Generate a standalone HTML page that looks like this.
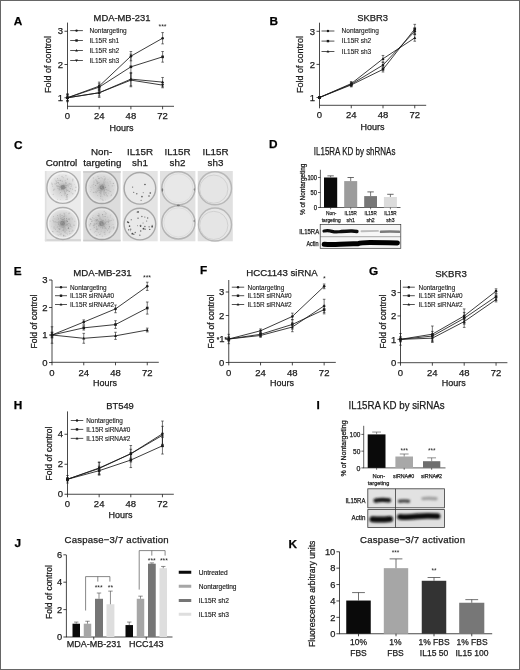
<!DOCTYPE html>
<html lang="en"><head><meta charset="utf-8"><title>Figure</title>
<style>html,body{margin:0;padding:0;background:#fff}svg{display:block}text{font-family:"Liberation Sans",Arial,sans-serif}</style></head>
<body>
<svg width="520" height="670" viewBox="0 0 520 670" font-family="'Liberation Sans', Arial, sans-serif">
<rect x="0" y="0" width="520" height="670" fill="#fff"/>
<text x="13.70" y="24.70" font-size="11.8" text-anchor="start" fill="#000" stroke="#000" stroke-width="0.25" font-weight="bold" >A</text>
<text x="122.00" y="20.50" font-size="9.4" text-anchor="middle" fill="#1a1a1a" stroke="#1a1a1a" stroke-width="0.25" >MDA-MB-231</text>
<line x1="67.50" y1="22.60" x2="67.50" y2="106.30" stroke="#1a1a1a" stroke-width="0.8" />
<line x1="67.10" y1="106.30" x2="174.00" y2="106.30" stroke="#1a1a1a" stroke-width="0.8" />
<line x1="64.50" y1="97.75" x2="67.50" y2="97.75" stroke="#1a1a1a" stroke-width="0.8" />
<text x="63.10" y="100.95" font-size="9.5" text-anchor="end" fill="#1a1a1a" stroke="#1a1a1a" stroke-width="0.25" >1</text>
<line x1="64.50" y1="64.50" x2="67.50" y2="64.50" stroke="#1a1a1a" stroke-width="0.8" />
<text x="63.10" y="67.70" font-size="9.5" text-anchor="end" fill="#1a1a1a" stroke="#1a1a1a" stroke-width="0.25" >2</text>
<line x1="64.50" y1="31.25" x2="67.50" y2="31.25" stroke="#1a1a1a" stroke-width="0.8" />
<text x="63.10" y="34.45" font-size="9.5" text-anchor="end" fill="#1a1a1a" stroke="#1a1a1a" stroke-width="0.25" >3</text>
<line x1="67.50" y1="106.30" x2="67.50" y2="109.30" stroke="#1a1a1a" stroke-width="0.8" />
<text x="67.50" y="119.30" font-size="9.5" text-anchor="middle" fill="#1a1a1a" stroke="#1a1a1a" stroke-width="0.25" >0</text>
<line x1="99.20" y1="106.30" x2="99.20" y2="109.30" stroke="#1a1a1a" stroke-width="0.8" />
<text x="99.20" y="119.30" font-size="9.5" text-anchor="middle" fill="#1a1a1a" stroke="#1a1a1a" stroke-width="0.25" >24</text>
<line x1="130.90" y1="106.30" x2="130.90" y2="109.30" stroke="#1a1a1a" stroke-width="0.8" />
<text x="130.90" y="119.30" font-size="9.5" text-anchor="middle" fill="#1a1a1a" stroke="#1a1a1a" stroke-width="0.25" >48</text>
<line x1="162.60" y1="106.30" x2="162.60" y2="109.30" stroke="#1a1a1a" stroke-width="0.8" />
<text x="162.60" y="119.30" font-size="9.5" text-anchor="middle" fill="#1a1a1a" stroke="#1a1a1a" stroke-width="0.25" >72</text>
<text x="121.50" y="130.80" font-size="9" text-anchor="middle" fill="#1a1a1a" stroke="#1a1a1a" stroke-width="0.25" >Hours</text>
<text x="50.50" y="64.50" font-size="9" text-anchor="middle" fill="#1a1a1a" stroke="#1a1a1a" stroke-width="0.25" transform="rotate(-90 50.50 64.50)" >Fold of control</text>
<path d="M67.50 97.75 L99.20 86.11 L130.90 56.19 L162.60 38.23" fill="none" stroke="#1a1a1a" stroke-width="0.85"/>
<line x1="67.50" y1="93.76" x2="67.50" y2="101.74" stroke="#1a1a1a" stroke-width="0.6" />
<line x1="66.20" y1="93.76" x2="68.80" y2="93.76" stroke="#1a1a1a" stroke-width="0.6" />
<line x1="66.20" y1="101.74" x2="68.80" y2="101.74" stroke="#1a1a1a" stroke-width="0.6" />
<circle cx="67.50" cy="97.75" r="1.3" fill="#1a1a1a"/>
<line x1="99.20" y1="82.12" x2="99.20" y2="90.10" stroke="#1a1a1a" stroke-width="0.6" />
<line x1="97.90" y1="82.12" x2="100.50" y2="82.12" stroke="#1a1a1a" stroke-width="0.6" />
<line x1="97.90" y1="90.10" x2="100.50" y2="90.10" stroke="#1a1a1a" stroke-width="0.6" />
<circle cx="99.20" cy="86.11" r="1.3" fill="#1a1a1a"/>
<line x1="130.90" y1="51.53" x2="130.90" y2="60.84" stroke="#1a1a1a" stroke-width="0.6" />
<line x1="129.60" y1="51.53" x2="132.20" y2="51.53" stroke="#1a1a1a" stroke-width="0.6" />
<line x1="129.60" y1="60.84" x2="132.20" y2="60.84" stroke="#1a1a1a" stroke-width="0.6" />
<circle cx="130.90" cy="56.19" r="1.3" fill="#1a1a1a"/>
<line x1="162.60" y1="32.58" x2="162.60" y2="43.88" stroke="#1a1a1a" stroke-width="0.6" />
<line x1="161.30" y1="32.58" x2="163.90" y2="32.58" stroke="#1a1a1a" stroke-width="0.6" />
<line x1="161.30" y1="43.88" x2="163.90" y2="43.88" stroke="#1a1a1a" stroke-width="0.6" />
<circle cx="162.60" cy="38.23" r="1.3" fill="#1a1a1a"/>
<path d="M67.50 97.75 L99.20 87.11 L130.90 66.83 L162.60 56.85" fill="none" stroke="#1a1a1a" stroke-width="0.85"/>
<line x1="67.50" y1="94.42" x2="67.50" y2="101.08" stroke="#1a1a1a" stroke-width="0.6" />
<line x1="66.20" y1="94.42" x2="68.80" y2="94.42" stroke="#1a1a1a" stroke-width="0.6" />
<line x1="66.20" y1="101.08" x2="68.80" y2="101.08" stroke="#1a1a1a" stroke-width="0.6" />
<rect x="66.20" y="96.45" width="2.6" height="2.6" fill="#1a1a1a"/>
<line x1="99.20" y1="83.78" x2="99.20" y2="90.44" stroke="#1a1a1a" stroke-width="0.6" />
<line x1="97.90" y1="83.78" x2="100.50" y2="83.78" stroke="#1a1a1a" stroke-width="0.6" />
<line x1="97.90" y1="90.44" x2="100.50" y2="90.44" stroke="#1a1a1a" stroke-width="0.6" />
<rect x="97.90" y="85.81" width="2.6" height="2.6" fill="#1a1a1a"/>
<line x1="130.90" y1="54.19" x2="130.90" y2="79.46" stroke="#1a1a1a" stroke-width="0.6" />
<line x1="129.60" y1="54.19" x2="132.20" y2="54.19" stroke="#1a1a1a" stroke-width="0.6" />
<line x1="129.60" y1="79.46" x2="132.20" y2="79.46" stroke="#1a1a1a" stroke-width="0.6" />
<rect x="129.60" y="65.53" width="2.6" height="2.6" fill="#1a1a1a"/>
<line x1="162.60" y1="51.53" x2="162.60" y2="62.17" stroke="#1a1a1a" stroke-width="0.6" />
<line x1="161.30" y1="51.53" x2="163.90" y2="51.53" stroke="#1a1a1a" stroke-width="0.6" />
<line x1="161.30" y1="62.17" x2="163.90" y2="62.17" stroke="#1a1a1a" stroke-width="0.6" />
<rect x="161.30" y="55.55" width="2.6" height="2.6" fill="#1a1a1a"/>
<path d="M67.50 97.75 L99.20 92.76 L130.90 79.13 L162.60 82.12" fill="none" stroke="#1a1a1a" stroke-width="0.85"/>
<line x1="67.50" y1="95.09" x2="67.50" y2="100.41" stroke="#1a1a1a" stroke-width="0.6" />
<line x1="66.20" y1="95.09" x2="68.80" y2="95.09" stroke="#1a1a1a" stroke-width="0.6" />
<line x1="66.20" y1="100.41" x2="68.80" y2="100.41" stroke="#1a1a1a" stroke-width="0.6" />
<path d="M67.50 96.19 L69.00 98.92 L66.00 98.92 Z" fill="#1a1a1a"/>
<line x1="99.20" y1="88.11" x2="99.20" y2="97.42" stroke="#1a1a1a" stroke-width="0.6" />
<line x1="97.90" y1="88.11" x2="100.50" y2="88.11" stroke="#1a1a1a" stroke-width="0.6" />
<line x1="97.90" y1="97.42" x2="100.50" y2="97.42" stroke="#1a1a1a" stroke-width="0.6" />
<path d="M99.20 91.20 L100.70 93.93 L97.70 93.93 Z" fill="#1a1a1a"/>
<line x1="130.90" y1="72.48" x2="130.90" y2="85.78" stroke="#1a1a1a" stroke-width="0.6" />
<line x1="129.60" y1="72.48" x2="132.20" y2="72.48" stroke="#1a1a1a" stroke-width="0.6" />
<line x1="129.60" y1="85.78" x2="132.20" y2="85.78" stroke="#1a1a1a" stroke-width="0.6" />
<path d="M130.90 77.57 L132.40 80.30 L129.41 80.30 Z" fill="#1a1a1a"/>
<line x1="162.60" y1="77.47" x2="162.60" y2="86.78" stroke="#1a1a1a" stroke-width="0.6" />
<line x1="161.30" y1="77.47" x2="163.90" y2="77.47" stroke="#1a1a1a" stroke-width="0.6" />
<line x1="161.30" y1="86.78" x2="163.90" y2="86.78" stroke="#1a1a1a" stroke-width="0.6" />
<path d="M162.60 80.56 L164.09 83.29 L161.10 83.29 Z" fill="#1a1a1a"/>
<path d="M67.50 97.75 L99.20 92.76 L130.90 80.13 L162.60 85.12" fill="none" stroke="#1a1a1a" stroke-width="0.85"/>
<line x1="67.50" y1="95.09" x2="67.50" y2="100.41" stroke="#1a1a1a" stroke-width="0.6" />
<line x1="66.20" y1="95.09" x2="68.80" y2="95.09" stroke="#1a1a1a" stroke-width="0.6" />
<line x1="66.20" y1="100.41" x2="68.80" y2="100.41" stroke="#1a1a1a" stroke-width="0.6" />
<path d="M67.50 99.31 L69.00 96.58 L66.00 96.58 Z" fill="#1a1a1a"/>
<line x1="99.20" y1="89.44" x2="99.20" y2="96.09" stroke="#1a1a1a" stroke-width="0.6" />
<line x1="97.90" y1="89.44" x2="100.50" y2="89.44" stroke="#1a1a1a" stroke-width="0.6" />
<line x1="97.90" y1="96.09" x2="100.50" y2="96.09" stroke="#1a1a1a" stroke-width="0.6" />
<path d="M99.20 94.32 L100.70 91.59 L97.70 91.59 Z" fill="#1a1a1a"/>
<line x1="130.90" y1="73.48" x2="130.90" y2="86.78" stroke="#1a1a1a" stroke-width="0.6" />
<line x1="129.60" y1="73.48" x2="132.20" y2="73.48" stroke="#1a1a1a" stroke-width="0.6" />
<line x1="129.60" y1="86.78" x2="132.20" y2="86.78" stroke="#1a1a1a" stroke-width="0.6" />
<path d="M130.90 81.69 L132.40 78.96 L129.41 78.96 Z" fill="#1a1a1a"/>
<line x1="162.60" y1="82.45" x2="162.60" y2="87.78" stroke="#1a1a1a" stroke-width="0.6" />
<line x1="161.30" y1="82.45" x2="163.90" y2="82.45" stroke="#1a1a1a" stroke-width="0.6" />
<line x1="161.30" y1="87.78" x2="163.90" y2="87.78" stroke="#1a1a1a" stroke-width="0.6" />
<path d="M162.60 86.68 L164.09 83.95 L161.10 83.95 Z" fill="#1a1a1a"/>
<line x1="70.20" y1="30.60" x2="82.90" y2="30.60" stroke="#1a1a1a" stroke-width="0.75" />
<circle cx="76.55" cy="30.60" r="1.2" fill="#1a1a1a"/>
<text x="89.50" y="32.90" font-size="6.5" text-anchor="start" fill="#1a1a1a" stroke="#1a1a1a" stroke-width="0.12" >Nontargeting</text>
<line x1="70.20" y1="40.50" x2="82.90" y2="40.50" stroke="#1a1a1a" stroke-width="0.75" />
<rect x="75.35" y="39.30" width="2.4" height="2.4" fill="#1a1a1a"/>
<text x="89.50" y="42.80" font-size="6.5" text-anchor="start" fill="#1a1a1a" stroke="#1a1a1a" stroke-width="0.12" >IL15R sh1</text>
<line x1="70.20" y1="50.50" x2="82.90" y2="50.50" stroke="#1a1a1a" stroke-width="0.75" />
<path d="M76.55 49.06 L77.93 51.58 L75.17 51.58 Z" fill="#1a1a1a"/>
<text x="89.50" y="52.80" font-size="6.5" text-anchor="start" fill="#1a1a1a" stroke="#1a1a1a" stroke-width="0.12" >IL15R sh2</text>
<line x1="70.20" y1="60.50" x2="82.90" y2="60.50" stroke="#1a1a1a" stroke-width="0.75" />
<path d="M76.55 61.94 L77.93 59.42 L75.17 59.42 Z" fill="#1a1a1a"/>
<text x="89.50" y="62.80" font-size="6.5" text-anchor="start" fill="#1a1a1a" stroke="#1a1a1a" stroke-width="0.12" >IL15R sh3</text>
<text x="162.50" y="28.80" font-size="7" text-anchor="middle" fill="#1a1a1a" >***</text>
<text x="269.40" y="24.70" font-size="11.8" text-anchor="start" fill="#000" stroke="#000" stroke-width="0.25" font-weight="bold" >B</text>
<text x="372.50" y="20.50" font-size="9.4" text-anchor="middle" fill="#1a1a1a" stroke="#1a1a1a" stroke-width="0.25" >SKBR3</text>
<line x1="319.50" y1="22.70" x2="319.50" y2="105.30" stroke="#1a1a1a" stroke-width="0.8" />
<line x1="319.10" y1="105.30" x2="426.20" y2="105.30" stroke="#1a1a1a" stroke-width="0.8" />
<line x1="316.50" y1="97.50" x2="319.50" y2="97.50" stroke="#1a1a1a" stroke-width="0.8" />
<text x="315.10" y="100.70" font-size="9.5" text-anchor="end" fill="#1a1a1a" stroke="#1a1a1a" stroke-width="0.25" >1</text>
<line x1="316.50" y1="64.40" x2="319.50" y2="64.40" stroke="#1a1a1a" stroke-width="0.8" />
<text x="315.10" y="67.60" font-size="9.5" text-anchor="end" fill="#1a1a1a" stroke="#1a1a1a" stroke-width="0.25" >2</text>
<line x1="316.50" y1="31.30" x2="319.50" y2="31.30" stroke="#1a1a1a" stroke-width="0.8" />
<text x="315.10" y="34.50" font-size="9.5" text-anchor="end" fill="#1a1a1a" stroke="#1a1a1a" stroke-width="0.25" >3</text>
<line x1="319.50" y1="105.30" x2="319.50" y2="108.30" stroke="#1a1a1a" stroke-width="0.8" />
<text x="319.50" y="117.90" font-size="9.5" text-anchor="middle" fill="#1a1a1a" stroke="#1a1a1a" stroke-width="0.25" >0</text>
<line x1="351.25" y1="105.30" x2="351.25" y2="108.30" stroke="#1a1a1a" stroke-width="0.8" />
<text x="351.25" y="117.90" font-size="9.5" text-anchor="middle" fill="#1a1a1a" stroke="#1a1a1a" stroke-width="0.25" >24</text>
<line x1="383.00" y1="105.30" x2="383.00" y2="108.30" stroke="#1a1a1a" stroke-width="0.8" />
<text x="383.00" y="117.90" font-size="9.5" text-anchor="middle" fill="#1a1a1a" stroke="#1a1a1a" stroke-width="0.25" >48</text>
<line x1="414.75" y1="105.30" x2="414.75" y2="108.30" stroke="#1a1a1a" stroke-width="0.8" />
<text x="414.75" y="117.90" font-size="9.5" text-anchor="middle" fill="#1a1a1a" stroke="#1a1a1a" stroke-width="0.25" >72</text>
<text x="372.62" y="129.50" font-size="9" text-anchor="middle" fill="#1a1a1a" stroke="#1a1a1a" stroke-width="0.25" >Hours</text>
<text x="303.00" y="64.50" font-size="9" text-anchor="middle" fill="#1a1a1a" stroke="#1a1a1a" stroke-width="0.25" transform="rotate(-90 303.00 64.50)" >Fold of control</text>
<path d="M319.50 97.50 L351.25 84.26 L383.00 65.06 L414.75 31.30" fill="none" stroke="#1a1a1a" stroke-width="0.85"/>
<line x1="319.50" y1="96.51" x2="319.50" y2="98.49" stroke="#1a1a1a" stroke-width="0.6" />
<line x1="318.20" y1="96.51" x2="320.80" y2="96.51" stroke="#1a1a1a" stroke-width="0.6" />
<line x1="318.20" y1="98.49" x2="320.80" y2="98.49" stroke="#1a1a1a" stroke-width="0.6" />
<circle cx="319.50" cy="97.50" r="1.3" fill="#1a1a1a"/>
<line x1="351.25" y1="82.27" x2="351.25" y2="86.25" stroke="#1a1a1a" stroke-width="0.6" />
<line x1="349.95" y1="82.27" x2="352.55" y2="82.27" stroke="#1a1a1a" stroke-width="0.6" />
<line x1="349.95" y1="86.25" x2="352.55" y2="86.25" stroke="#1a1a1a" stroke-width="0.6" />
<circle cx="351.25" cy="84.26" r="1.3" fill="#1a1a1a"/>
<line x1="383.00" y1="62.41" x2="383.00" y2="67.71" stroke="#1a1a1a" stroke-width="0.6" />
<line x1="381.70" y1="62.41" x2="384.30" y2="62.41" stroke="#1a1a1a" stroke-width="0.6" />
<line x1="381.70" y1="67.71" x2="384.30" y2="67.71" stroke="#1a1a1a" stroke-width="0.6" />
<circle cx="383.00" cy="65.06" r="1.3" fill="#1a1a1a"/>
<line x1="414.75" y1="27.99" x2="414.75" y2="34.61" stroke="#1a1a1a" stroke-width="0.6" />
<line x1="413.45" y1="27.99" x2="416.05" y2="27.99" stroke="#1a1a1a" stroke-width="0.6" />
<line x1="413.45" y1="34.61" x2="416.05" y2="34.61" stroke="#1a1a1a" stroke-width="0.6" />
<circle cx="414.75" cy="31.30" r="1.3" fill="#1a1a1a"/>
<path d="M319.50 97.50 L351.25 84.92 L383.00 69.36 L414.75 28.98" fill="none" stroke="#1a1a1a" stroke-width="0.85"/>
<line x1="319.50" y1="96.51" x2="319.50" y2="98.49" stroke="#1a1a1a" stroke-width="0.6" />
<line x1="318.20" y1="96.51" x2="320.80" y2="96.51" stroke="#1a1a1a" stroke-width="0.6" />
<line x1="318.20" y1="98.49" x2="320.80" y2="98.49" stroke="#1a1a1a" stroke-width="0.6" />
<rect x="318.20" y="96.20" width="2.6" height="2.6" fill="#1a1a1a"/>
<line x1="351.25" y1="82.94" x2="351.25" y2="86.91" stroke="#1a1a1a" stroke-width="0.6" />
<line x1="349.95" y1="82.94" x2="352.55" y2="82.94" stroke="#1a1a1a" stroke-width="0.6" />
<line x1="349.95" y1="86.91" x2="352.55" y2="86.91" stroke="#1a1a1a" stroke-width="0.6" />
<rect x="349.95" y="83.62" width="2.6" height="2.6" fill="#1a1a1a"/>
<line x1="383.00" y1="66.72" x2="383.00" y2="72.01" stroke="#1a1a1a" stroke-width="0.6" />
<line x1="381.70" y1="66.72" x2="384.30" y2="66.72" stroke="#1a1a1a" stroke-width="0.6" />
<line x1="381.70" y1="72.01" x2="384.30" y2="72.01" stroke="#1a1a1a" stroke-width="0.6" />
<rect x="381.70" y="68.06" width="2.6" height="2.6" fill="#1a1a1a"/>
<line x1="414.75" y1="24.35" x2="414.75" y2="33.62" stroke="#1a1a1a" stroke-width="0.6" />
<line x1="413.45" y1="24.35" x2="416.05" y2="24.35" stroke="#1a1a1a" stroke-width="0.6" />
<line x1="413.45" y1="33.62" x2="416.05" y2="33.62" stroke="#1a1a1a" stroke-width="0.6" />
<rect x="413.45" y="27.68" width="2.6" height="2.6" fill="#1a1a1a"/>
<path d="M319.50 97.50 L351.25 83.60 L383.00 58.77 L414.75 37.92" fill="none" stroke="#1a1a1a" stroke-width="0.85"/>
<line x1="319.50" y1="96.51" x2="319.50" y2="98.49" stroke="#1a1a1a" stroke-width="0.6" />
<line x1="318.20" y1="96.51" x2="320.80" y2="96.51" stroke="#1a1a1a" stroke-width="0.6" />
<line x1="318.20" y1="98.49" x2="320.80" y2="98.49" stroke="#1a1a1a" stroke-width="0.6" />
<path d="M319.50 95.94 L321.00 98.67 L318.00 98.67 Z" fill="#1a1a1a"/>
<line x1="351.25" y1="81.61" x2="351.25" y2="85.58" stroke="#1a1a1a" stroke-width="0.6" />
<line x1="349.95" y1="81.61" x2="352.55" y2="81.61" stroke="#1a1a1a" stroke-width="0.6" />
<line x1="349.95" y1="85.58" x2="352.55" y2="85.58" stroke="#1a1a1a" stroke-width="0.6" />
<path d="M351.25 82.04 L352.75 84.77 L349.75 84.77 Z" fill="#1a1a1a"/>
<line x1="383.00" y1="55.46" x2="383.00" y2="62.08" stroke="#1a1a1a" stroke-width="0.6" />
<line x1="381.70" y1="55.46" x2="384.30" y2="55.46" stroke="#1a1a1a" stroke-width="0.6" />
<line x1="381.70" y1="62.08" x2="384.30" y2="62.08" stroke="#1a1a1a" stroke-width="0.6" />
<path d="M383.00 57.21 L384.50 59.94 L381.50 59.94 Z" fill="#1a1a1a"/>
<line x1="414.75" y1="34.61" x2="414.75" y2="41.23" stroke="#1a1a1a" stroke-width="0.6" />
<line x1="413.45" y1="34.61" x2="416.05" y2="34.61" stroke="#1a1a1a" stroke-width="0.6" />
<line x1="413.45" y1="41.23" x2="416.05" y2="41.23" stroke="#1a1a1a" stroke-width="0.6" />
<path d="M414.75 36.36 L416.25 39.09 L413.25 39.09 Z" fill="#1a1a1a"/>
<line x1="321.50" y1="31.00" x2="334.40" y2="31.00" stroke="#1a1a1a" stroke-width="0.75" />
<circle cx="327.95" cy="31.00" r="1.2" fill="#1a1a1a"/>
<text x="341.60" y="33.30" font-size="6.5" text-anchor="start" fill="#1a1a1a" stroke="#1a1a1a" stroke-width="0.12" >Nontargeting</text>
<line x1="321.50" y1="41.10" x2="334.40" y2="41.10" stroke="#1a1a1a" stroke-width="0.75" />
<rect x="326.75" y="39.90" width="2.4" height="2.4" fill="#1a1a1a"/>
<text x="341.60" y="43.40" font-size="6.5" text-anchor="start" fill="#1a1a1a" stroke="#1a1a1a" stroke-width="0.12" >IL15R sh2</text>
<line x1="321.50" y1="51.50" x2="334.40" y2="51.50" stroke="#1a1a1a" stroke-width="0.75" />
<path d="M327.95 50.06 L329.33 52.58 L326.57 52.58 Z" fill="#1a1a1a"/>
<text x="341.60" y="53.80" font-size="6.5" text-anchor="start" fill="#1a1a1a" stroke="#1a1a1a" stroke-width="0.12" >IL15R sh3</text>
<text x="13.80" y="274.60" font-size="11.8" text-anchor="start" fill="#000" stroke="#000" stroke-width="0.25" font-weight="bold" >E</text>
<text x="102.50" y="275.75" font-size="9.65" text-anchor="middle" fill="#1a1a1a" stroke="#1a1a1a" stroke-width="0.25" >MDA-MB-231</text>
<line x1="52.00" y1="280.00" x2="52.00" y2="362.30" stroke="#1a1a1a" stroke-width="0.8" />
<line x1="51.60" y1="362.30" x2="158.80" y2="362.30" stroke="#1a1a1a" stroke-width="0.8" />
<line x1="49.00" y1="362.50" x2="52.00" y2="362.50" stroke="#1a1a1a" stroke-width="0.8" />
<text x="47.50" y="365.70" font-size="9.5" text-anchor="end" fill="#1a1a1a" stroke="#1a1a1a" stroke-width="0.25" >0</text>
<line x1="49.00" y1="335.00" x2="52.00" y2="335.00" stroke="#1a1a1a" stroke-width="0.8" />
<text x="47.50" y="338.20" font-size="9.5" text-anchor="end" fill="#1a1a1a" stroke="#1a1a1a" stroke-width="0.25" >1</text>
<line x1="49.00" y1="307.50" x2="52.00" y2="307.50" stroke="#1a1a1a" stroke-width="0.8" />
<text x="47.50" y="310.70" font-size="9.5" text-anchor="end" fill="#1a1a1a" stroke="#1a1a1a" stroke-width="0.25" >2</text>
<line x1="49.00" y1="280.00" x2="52.00" y2="280.00" stroke="#1a1a1a" stroke-width="0.8" />
<text x="47.50" y="283.20" font-size="9.5" text-anchor="end" fill="#1a1a1a" stroke="#1a1a1a" stroke-width="0.25" >3</text>
<line x1="52.00" y1="362.30" x2="52.00" y2="365.30" stroke="#1a1a1a" stroke-width="0.8" />
<text x="52.00" y="375.75" font-size="9.5" text-anchor="middle" fill="#1a1a1a" stroke="#1a1a1a" stroke-width="0.25" >0</text>
<line x1="83.75" y1="362.30" x2="83.75" y2="365.30" stroke="#1a1a1a" stroke-width="0.8" />
<text x="83.75" y="375.75" font-size="9.5" text-anchor="middle" fill="#1a1a1a" stroke="#1a1a1a" stroke-width="0.25" >24</text>
<line x1="115.50" y1="362.30" x2="115.50" y2="365.30" stroke="#1a1a1a" stroke-width="0.8" />
<text x="115.50" y="375.75" font-size="9.5" text-anchor="middle" fill="#1a1a1a" stroke="#1a1a1a" stroke-width="0.25" >48</text>
<line x1="147.25" y1="362.30" x2="147.25" y2="365.30" stroke="#1a1a1a" stroke-width="0.8" />
<text x="147.25" y="375.75" font-size="9.5" text-anchor="middle" fill="#1a1a1a" stroke="#1a1a1a" stroke-width="0.25" >72</text>
<text x="105.12" y="385.75" font-size="9" text-anchor="middle" fill="#1a1a1a" stroke="#1a1a1a" stroke-width="0.25" >Hours</text>
<text x="37.20" y="321.50" font-size="8.5" text-anchor="middle" fill="#1a1a1a" stroke="#1a1a1a" stroke-width="0.25" transform="rotate(-90 37.20 321.50)" >Fold of control</text>
<path d="M52.00 335.00 L83.75 322.07 L115.50 308.88 L147.25 286.32" fill="none" stroke="#1a1a1a" stroke-width="0.85"/>
<line x1="52.00" y1="326.75" x2="52.00" y2="343.25" stroke="#1a1a1a" stroke-width="0.6" />
<line x1="50.70" y1="326.75" x2="53.30" y2="326.75" stroke="#1a1a1a" stroke-width="0.6" />
<line x1="50.70" y1="343.25" x2="53.30" y2="343.25" stroke="#1a1a1a" stroke-width="0.6" />
<circle cx="52.00" cy="335.00" r="1.3" fill="#1a1a1a"/>
<line x1="83.75" y1="319.88" x2="83.75" y2="324.27" stroke="#1a1a1a" stroke-width="0.6" />
<line x1="82.45" y1="319.88" x2="85.05" y2="319.88" stroke="#1a1a1a" stroke-width="0.6" />
<line x1="82.45" y1="324.27" x2="85.05" y2="324.27" stroke="#1a1a1a" stroke-width="0.6" />
<circle cx="83.75" cy="322.07" r="1.3" fill="#1a1a1a"/>
<line x1="115.50" y1="305.02" x2="115.50" y2="312.73" stroke="#1a1a1a" stroke-width="0.6" />
<line x1="114.20" y1="305.02" x2="116.80" y2="305.02" stroke="#1a1a1a" stroke-width="0.6" />
<line x1="114.20" y1="312.73" x2="116.80" y2="312.73" stroke="#1a1a1a" stroke-width="0.6" />
<circle cx="115.50" cy="308.88" r="1.3" fill="#1a1a1a"/>
<line x1="147.25" y1="282.20" x2="147.25" y2="290.45" stroke="#1a1a1a" stroke-width="0.6" />
<line x1="145.95" y1="282.20" x2="148.55" y2="282.20" stroke="#1a1a1a" stroke-width="0.6" />
<line x1="145.95" y1="290.45" x2="148.55" y2="290.45" stroke="#1a1a1a" stroke-width="0.6" />
<circle cx="147.25" cy="286.32" r="1.3" fill="#1a1a1a"/>
<path d="M52.00 335.00 L83.75 327.85 L115.50 324.55 L147.25 308.05" fill="none" stroke="#1a1a1a" stroke-width="0.85"/>
<line x1="52.00" y1="332.25" x2="52.00" y2="337.75" stroke="#1a1a1a" stroke-width="0.6" />
<line x1="50.70" y1="332.25" x2="53.30" y2="332.25" stroke="#1a1a1a" stroke-width="0.6" />
<line x1="50.70" y1="337.75" x2="53.30" y2="337.75" stroke="#1a1a1a" stroke-width="0.6" />
<rect x="50.70" y="333.70" width="2.6" height="2.6" fill="#1a1a1a"/>
<line x1="83.75" y1="325.65" x2="83.75" y2="330.05" stroke="#1a1a1a" stroke-width="0.6" />
<line x1="82.45" y1="325.65" x2="85.05" y2="325.65" stroke="#1a1a1a" stroke-width="0.6" />
<line x1="82.45" y1="330.05" x2="85.05" y2="330.05" stroke="#1a1a1a" stroke-width="0.6" />
<rect x="82.45" y="326.55" width="2.6" height="2.6" fill="#1a1a1a"/>
<line x1="115.50" y1="320.70" x2="115.50" y2="328.40" stroke="#1a1a1a" stroke-width="0.6" />
<line x1="114.20" y1="320.70" x2="116.80" y2="320.70" stroke="#1a1a1a" stroke-width="0.6" />
<line x1="114.20" y1="328.40" x2="116.80" y2="328.40" stroke="#1a1a1a" stroke-width="0.6" />
<rect x="114.20" y="323.25" width="2.6" height="2.6" fill="#1a1a1a"/>
<line x1="147.25" y1="302.00" x2="147.25" y2="314.10" stroke="#1a1a1a" stroke-width="0.6" />
<line x1="145.95" y1="302.00" x2="148.55" y2="302.00" stroke="#1a1a1a" stroke-width="0.6" />
<line x1="145.95" y1="314.10" x2="148.55" y2="314.10" stroke="#1a1a1a" stroke-width="0.6" />
<rect x="145.95" y="306.75" width="2.6" height="2.6" fill="#1a1a1a"/>
<path d="M52.00 335.00 L83.75 338.30 L115.50 335.82 L147.25 330.05" fill="none" stroke="#1a1a1a" stroke-width="0.85"/>
<line x1="52.00" y1="332.25" x2="52.00" y2="337.75" stroke="#1a1a1a" stroke-width="0.6" />
<line x1="50.70" y1="332.25" x2="53.30" y2="332.25" stroke="#1a1a1a" stroke-width="0.6" />
<line x1="50.70" y1="337.75" x2="53.30" y2="337.75" stroke="#1a1a1a" stroke-width="0.6" />
<path d="M52.00 333.44 L53.49 336.17 L50.51 336.17 Z" fill="#1a1a1a"/>
<line x1="83.75" y1="333.35" x2="83.75" y2="343.25" stroke="#1a1a1a" stroke-width="0.6" />
<line x1="82.45" y1="333.35" x2="85.05" y2="333.35" stroke="#1a1a1a" stroke-width="0.6" />
<line x1="82.45" y1="343.25" x2="85.05" y2="343.25" stroke="#1a1a1a" stroke-width="0.6" />
<path d="M83.75 336.74 L85.25 339.47 L82.25 339.47 Z" fill="#1a1a1a"/>
<line x1="115.50" y1="332.25" x2="115.50" y2="339.40" stroke="#1a1a1a" stroke-width="0.6" />
<line x1="114.20" y1="332.25" x2="116.80" y2="332.25" stroke="#1a1a1a" stroke-width="0.6" />
<line x1="114.20" y1="339.40" x2="116.80" y2="339.40" stroke="#1a1a1a" stroke-width="0.6" />
<path d="M115.50 334.26 L117.00 337.00 L114.00 337.00 Z" fill="#1a1a1a"/>
<line x1="147.25" y1="328.12" x2="147.25" y2="331.98" stroke="#1a1a1a" stroke-width="0.6" />
<line x1="145.95" y1="328.12" x2="148.55" y2="328.12" stroke="#1a1a1a" stroke-width="0.6" />
<line x1="145.95" y1="331.98" x2="148.55" y2="331.98" stroke="#1a1a1a" stroke-width="0.6" />
<path d="M147.25 328.49 L148.75 331.22 L145.75 331.22 Z" fill="#1a1a1a"/>
<line x1="55.00" y1="287.20" x2="67.00" y2="287.20" stroke="#1a1a1a" stroke-width="0.75" />
<circle cx="61.00" cy="287.20" r="1.2" fill="#1a1a1a"/>
<text x="70.00" y="289.50" font-size="6.4" text-anchor="start" fill="#1a1a1a" stroke="#1a1a1a" stroke-width="0.12" >Nontargeting</text>
<line x1="55.00" y1="295.70" x2="67.00" y2="295.70" stroke="#1a1a1a" stroke-width="0.75" />
<rect x="59.80" y="294.50" width="2.4" height="2.4" fill="#1a1a1a"/>
<text x="70.00" y="298.00" font-size="6.4" text-anchor="start" fill="#1a1a1a" stroke="#1a1a1a" stroke-width="0.12" >IL15R siRNA#0</text>
<line x1="55.00" y1="304.50" x2="67.00" y2="304.50" stroke="#1a1a1a" stroke-width="0.75" />
<path d="M61.00 303.06 L62.38 305.58 L59.62 305.58 Z" fill="#1a1a1a"/>
<text x="70.00" y="306.80" font-size="6.4" text-anchor="start" fill="#1a1a1a" stroke="#1a1a1a" stroke-width="0.12" >IL15R siRNA#2</text>
<text x="147.00" y="280.00" font-size="7" text-anchor="middle" fill="#1a1a1a" >***</text>
<text x="200.00" y="274.40" font-size="11.8" text-anchor="start" fill="#000" stroke="#000" stroke-width="0.25" font-weight="bold" >F</text>
<text x="282.00" y="276.25" font-size="9.65" text-anchor="middle" fill="#1a1a1a" stroke="#1a1a1a" stroke-width="0.25" >HCC1143 siRNA</text>
<line x1="228.75" y1="280.00" x2="228.75" y2="362.40" stroke="#1a1a1a" stroke-width="0.8" />
<line x1="228.35" y1="362.40" x2="335.80" y2="362.40" stroke="#1a1a1a" stroke-width="0.8" />
<line x1="225.75" y1="362.50" x2="228.75" y2="362.50" stroke="#1a1a1a" stroke-width="0.8" />
<text x="224.25" y="365.70" font-size="9.5" text-anchor="end" fill="#1a1a1a" stroke="#1a1a1a" stroke-width="0.25" >0</text>
<line x1="225.75" y1="339.00" x2="228.75" y2="339.00" stroke="#1a1a1a" stroke-width="0.8" />
<text x="227.15" y="342.20" font-size="9.5" text-anchor="end" fill="#1a1a1a" stroke="#1a1a1a" stroke-width="0.25" ><tspan font-size="6.5" dy="-0.6">*</tspan><tspan dy="0.6">1</tspan><tspan font-size="6.5" dy="-0.6">*</tspan></text>
<line x1="225.75" y1="315.50" x2="228.75" y2="315.50" stroke="#1a1a1a" stroke-width="0.8" />
<text x="224.25" y="318.70" font-size="9.5" text-anchor="end" fill="#1a1a1a" stroke="#1a1a1a" stroke-width="0.25" >2</text>
<line x1="225.75" y1="292.00" x2="228.75" y2="292.00" stroke="#1a1a1a" stroke-width="0.8" />
<text x="224.25" y="295.20" font-size="9.5" text-anchor="end" fill="#1a1a1a" stroke="#1a1a1a" stroke-width="0.25" >3</text>
<line x1="228.75" y1="362.40" x2="228.75" y2="365.40" stroke="#1a1a1a" stroke-width="0.8" />
<text x="228.75" y="375.75" font-size="9.5" text-anchor="middle" fill="#1a1a1a" stroke="#1a1a1a" stroke-width="0.25" >0</text>
<line x1="260.55" y1="362.40" x2="260.55" y2="365.40" stroke="#1a1a1a" stroke-width="0.8" />
<text x="260.55" y="375.75" font-size="9.5" text-anchor="middle" fill="#1a1a1a" stroke="#1a1a1a" stroke-width="0.25" >24</text>
<line x1="292.35" y1="362.40" x2="292.35" y2="365.40" stroke="#1a1a1a" stroke-width="0.8" />
<text x="292.35" y="375.75" font-size="9.5" text-anchor="middle" fill="#1a1a1a" stroke="#1a1a1a" stroke-width="0.25" >48</text>
<line x1="324.15" y1="362.40" x2="324.15" y2="365.40" stroke="#1a1a1a" stroke-width="0.8" />
<text x="324.15" y="375.75" font-size="9.5" text-anchor="middle" fill="#1a1a1a" stroke="#1a1a1a" stroke-width="0.25" >72</text>
<text x="281.95" y="385.75" font-size="9" text-anchor="middle" fill="#1a1a1a" stroke="#1a1a1a" stroke-width="0.25" >Hours</text>
<text x="213.50" y="321.50" font-size="8.5" text-anchor="middle" fill="#1a1a1a" stroke="#1a1a1a" stroke-width="0.25" transform="rotate(-90 213.50 321.50)" >Fold of control</text>
<path d="M228.75 339.00 L260.55 330.77 L292.35 316.44 L324.15 286.36" fill="none" stroke="#1a1a1a" stroke-width="0.85"/>
<line x1="228.75" y1="334.30" x2="228.75" y2="343.70" stroke="#1a1a1a" stroke-width="0.6" />
<line x1="227.45" y1="334.30" x2="230.05" y2="334.30" stroke="#1a1a1a" stroke-width="0.6" />
<line x1="227.45" y1="343.70" x2="230.05" y2="343.70" stroke="#1a1a1a" stroke-width="0.6" />
<circle cx="228.75" cy="339.00" r="1.3" fill="#1a1a1a"/>
<line x1="260.55" y1="328.89" x2="260.55" y2="332.65" stroke="#1a1a1a" stroke-width="0.6" />
<line x1="259.25" y1="328.89" x2="261.85" y2="328.89" stroke="#1a1a1a" stroke-width="0.6" />
<line x1="259.25" y1="332.65" x2="261.85" y2="332.65" stroke="#1a1a1a" stroke-width="0.6" />
<circle cx="260.55" cy="330.77" r="1.3" fill="#1a1a1a"/>
<line x1="292.35" y1="313.15" x2="292.35" y2="319.73" stroke="#1a1a1a" stroke-width="0.6" />
<line x1="291.05" y1="313.15" x2="293.65" y2="313.15" stroke="#1a1a1a" stroke-width="0.6" />
<line x1="291.05" y1="319.73" x2="293.65" y2="319.73" stroke="#1a1a1a" stroke-width="0.6" />
<circle cx="292.35" cy="316.44" r="1.3" fill="#1a1a1a"/>
<line x1="324.15" y1="284.01" x2="324.15" y2="288.71" stroke="#1a1a1a" stroke-width="0.6" />
<line x1="322.85" y1="284.01" x2="325.45" y2="284.01" stroke="#1a1a1a" stroke-width="0.6" />
<line x1="322.85" y1="288.71" x2="325.45" y2="288.71" stroke="#1a1a1a" stroke-width="0.6" />
<circle cx="324.15" cy="286.36" r="1.3" fill="#1a1a1a"/>
<path d="M228.75 339.00 L260.55 334.30 L292.35 324.43 L324.15 309.62" fill="none" stroke="#1a1a1a" stroke-width="0.85"/>
<line x1="228.75" y1="337.12" x2="228.75" y2="340.88" stroke="#1a1a1a" stroke-width="0.6" />
<line x1="227.45" y1="337.12" x2="230.05" y2="337.12" stroke="#1a1a1a" stroke-width="0.6" />
<line x1="227.45" y1="340.88" x2="230.05" y2="340.88" stroke="#1a1a1a" stroke-width="0.6" />
<rect x="227.45" y="337.70" width="2.6" height="2.6" fill="#1a1a1a"/>
<line x1="260.55" y1="332.42" x2="260.55" y2="336.18" stroke="#1a1a1a" stroke-width="0.6" />
<line x1="259.25" y1="332.42" x2="261.85" y2="332.42" stroke="#1a1a1a" stroke-width="0.6" />
<line x1="259.25" y1="336.18" x2="261.85" y2="336.18" stroke="#1a1a1a" stroke-width="0.6" />
<rect x="259.25" y="333.00" width="2.6" height="2.6" fill="#1a1a1a"/>
<line x1="292.35" y1="319.73" x2="292.35" y2="329.13" stroke="#1a1a1a" stroke-width="0.6" />
<line x1="291.05" y1="319.73" x2="293.65" y2="319.73" stroke="#1a1a1a" stroke-width="0.6" />
<line x1="291.05" y1="329.13" x2="293.65" y2="329.13" stroke="#1a1a1a" stroke-width="0.6" />
<rect x="291.05" y="323.13" width="2.6" height="2.6" fill="#1a1a1a"/>
<line x1="324.15" y1="305.39" x2="324.15" y2="313.86" stroke="#1a1a1a" stroke-width="0.6" />
<line x1="322.85" y1="305.39" x2="325.45" y2="305.39" stroke="#1a1a1a" stroke-width="0.6" />
<line x1="322.85" y1="313.86" x2="325.45" y2="313.86" stroke="#1a1a1a" stroke-width="0.6" />
<rect x="322.85" y="308.32" width="2.6" height="2.6" fill="#1a1a1a"/>
<path d="M228.75 339.00 L260.55 335.48 L292.35 327.01 L324.15 305.87" fill="none" stroke="#1a1a1a" stroke-width="0.85"/>
<line x1="228.75" y1="337.12" x2="228.75" y2="340.88" stroke="#1a1a1a" stroke-width="0.6" />
<line x1="227.45" y1="337.12" x2="230.05" y2="337.12" stroke="#1a1a1a" stroke-width="0.6" />
<line x1="227.45" y1="340.88" x2="230.05" y2="340.88" stroke="#1a1a1a" stroke-width="0.6" />
<path d="M228.75 337.44 L230.25 340.17 L227.25 340.17 Z" fill="#1a1a1a"/>
<line x1="260.55" y1="333.60" x2="260.55" y2="337.36" stroke="#1a1a1a" stroke-width="0.6" />
<line x1="259.25" y1="333.60" x2="261.85" y2="333.60" stroke="#1a1a1a" stroke-width="0.6" />
<line x1="259.25" y1="337.36" x2="261.85" y2="337.36" stroke="#1a1a1a" stroke-width="0.6" />
<path d="M260.55 333.92 L262.05 336.65 L259.06 336.65 Z" fill="#1a1a1a"/>
<line x1="292.35" y1="322.31" x2="292.35" y2="331.71" stroke="#1a1a1a" stroke-width="0.6" />
<line x1="291.05" y1="322.31" x2="293.65" y2="322.31" stroke="#1a1a1a" stroke-width="0.6" />
<line x1="291.05" y1="331.71" x2="293.65" y2="331.71" stroke="#1a1a1a" stroke-width="0.6" />
<path d="M292.35 325.45 L293.85 328.19 L290.86 328.19 Z" fill="#1a1a1a"/>
<line x1="324.15" y1="299.28" x2="324.15" y2="312.44" stroke="#1a1a1a" stroke-width="0.6" />
<line x1="322.85" y1="299.28" x2="325.45" y2="299.28" stroke="#1a1a1a" stroke-width="0.6" />
<line x1="322.85" y1="312.44" x2="325.45" y2="312.44" stroke="#1a1a1a" stroke-width="0.6" />
<path d="M324.15 304.31 L325.64 307.04 L322.65 307.04 Z" fill="#1a1a1a"/>
<line x1="231.80" y1="287.20" x2="244.20" y2="287.20" stroke="#1a1a1a" stroke-width="0.75" />
<circle cx="238.00" cy="287.20" r="1.2" fill="#1a1a1a"/>
<text x="247.60" y="289.50" font-size="6.4" text-anchor="start" fill="#1a1a1a" stroke="#1a1a1a" stroke-width="0.12" >Nontargeting</text>
<line x1="231.80" y1="295.70" x2="244.20" y2="295.70" stroke="#1a1a1a" stroke-width="0.75" />
<rect x="236.80" y="294.50" width="2.4" height="2.4" fill="#1a1a1a"/>
<text x="247.60" y="298.00" font-size="6.4" text-anchor="start" fill="#1a1a1a" stroke="#1a1a1a" stroke-width="0.12" >IL15R siRNA#0</text>
<line x1="231.80" y1="304.50" x2="244.20" y2="304.50" stroke="#1a1a1a" stroke-width="0.75" />
<path d="M238.00 303.06 L239.38 305.58 L236.62 305.58 Z" fill="#1a1a1a"/>
<text x="247.60" y="306.80" font-size="6.4" text-anchor="start" fill="#1a1a1a" stroke="#1a1a1a" stroke-width="0.12" >IL15R siRNA#2</text>
<text x="324.30" y="281.00" font-size="7" text-anchor="middle" fill="#1a1a1a" >*</text>
<text x="369.00" y="274.70" font-size="11.8" text-anchor="start" fill="#000" stroke="#000" stroke-width="0.25" font-weight="bold" >G</text>
<text x="451.00" y="276.50" font-size="9.65" text-anchor="middle" fill="#1a1a1a" stroke="#1a1a1a" stroke-width="0.25" >SKBR3</text>
<line x1="400.50" y1="280.00" x2="400.50" y2="362.70" stroke="#1a1a1a" stroke-width="0.8" />
<line x1="400.10" y1="362.70" x2="507.40" y2="362.70" stroke="#1a1a1a" stroke-width="0.8" />
<line x1="397.50" y1="362.75" x2="400.50" y2="362.75" stroke="#1a1a1a" stroke-width="0.8" />
<text x="396.30" y="365.95" font-size="9.5" text-anchor="end" fill="#1a1a1a" stroke="#1a1a1a" stroke-width="0.25" >0</text>
<line x1="397.50" y1="339.35" x2="400.50" y2="339.35" stroke="#1a1a1a" stroke-width="0.8" />
<text x="396.30" y="342.55" font-size="9.5" text-anchor="end" fill="#1a1a1a" stroke="#1a1a1a" stroke-width="0.25" >1</text>
<line x1="397.50" y1="315.95" x2="400.50" y2="315.95" stroke="#1a1a1a" stroke-width="0.8" />
<text x="396.30" y="319.15" font-size="9.5" text-anchor="end" fill="#1a1a1a" stroke="#1a1a1a" stroke-width="0.25" >2</text>
<line x1="397.50" y1="292.55" x2="400.50" y2="292.55" stroke="#1a1a1a" stroke-width="0.8" />
<text x="396.30" y="295.75" font-size="9.5" text-anchor="end" fill="#1a1a1a" stroke="#1a1a1a" stroke-width="0.25" >3</text>
<line x1="400.50" y1="362.70" x2="400.50" y2="365.70" stroke="#1a1a1a" stroke-width="0.8" />
<text x="400.50" y="375.75" font-size="9.5" text-anchor="middle" fill="#1a1a1a" stroke="#1a1a1a" stroke-width="0.25" >0</text>
<line x1="432.35" y1="362.70" x2="432.35" y2="365.70" stroke="#1a1a1a" stroke-width="0.8" />
<text x="432.35" y="375.75" font-size="9.5" text-anchor="middle" fill="#1a1a1a" stroke="#1a1a1a" stroke-width="0.25" >24</text>
<line x1="464.20" y1="362.70" x2="464.20" y2="365.70" stroke="#1a1a1a" stroke-width="0.8" />
<text x="464.20" y="375.75" font-size="9.5" text-anchor="middle" fill="#1a1a1a" stroke="#1a1a1a" stroke-width="0.25" >48</text>
<line x1="496.05" y1="362.70" x2="496.05" y2="365.70" stroke="#1a1a1a" stroke-width="0.8" />
<text x="496.05" y="375.75" font-size="9.5" text-anchor="middle" fill="#1a1a1a" stroke="#1a1a1a" stroke-width="0.25" >72</text>
<text x="453.77" y="385.75" font-size="9" text-anchor="middle" fill="#1a1a1a" stroke="#1a1a1a" stroke-width="0.25" >Hours</text>
<text x="385.70" y="321.50" font-size="8.5" text-anchor="middle" fill="#1a1a1a" stroke="#1a1a1a" stroke-width="0.25" transform="rotate(-90 385.70 321.50)" >Fold of control</text>
<path d="M400.50 339.35 L432.35 334.20 L464.20 315.95 L496.05 291.15" fill="none" stroke="#1a1a1a" stroke-width="0.85"/>
<line x1="400.50" y1="333.50" x2="400.50" y2="345.20" stroke="#1a1a1a" stroke-width="0.6" />
<line x1="399.20" y1="333.50" x2="401.80" y2="333.50" stroke="#1a1a1a" stroke-width="0.6" />
<line x1="399.20" y1="345.20" x2="401.80" y2="345.20" stroke="#1a1a1a" stroke-width="0.6" />
<circle cx="400.50" cy="339.35" r="1.3" fill="#1a1a1a"/>
<line x1="432.35" y1="326.01" x2="432.35" y2="342.39" stroke="#1a1a1a" stroke-width="0.6" />
<line x1="431.05" y1="326.01" x2="433.65" y2="326.01" stroke="#1a1a1a" stroke-width="0.6" />
<line x1="431.05" y1="342.39" x2="433.65" y2="342.39" stroke="#1a1a1a" stroke-width="0.6" />
<circle cx="432.35" cy="334.20" r="1.3" fill="#1a1a1a"/>
<line x1="464.20" y1="308.93" x2="464.20" y2="322.97" stroke="#1a1a1a" stroke-width="0.6" />
<line x1="462.90" y1="308.93" x2="465.50" y2="308.93" stroke="#1a1a1a" stroke-width="0.6" />
<line x1="462.90" y1="322.97" x2="465.50" y2="322.97" stroke="#1a1a1a" stroke-width="0.6" />
<circle cx="464.20" cy="315.95" r="1.3" fill="#1a1a1a"/>
<line x1="496.05" y1="288.81" x2="496.05" y2="293.49" stroke="#1a1a1a" stroke-width="0.6" />
<line x1="494.75" y1="288.81" x2="497.35" y2="288.81" stroke="#1a1a1a" stroke-width="0.6" />
<line x1="494.75" y1="293.49" x2="497.35" y2="293.49" stroke="#1a1a1a" stroke-width="0.6" />
<circle cx="496.05" cy="291.15" r="1.3" fill="#1a1a1a"/>
<path d="M400.50 339.35 L432.35 336.07 L464.20 318.29 L496.05 296.53" fill="none" stroke="#1a1a1a" stroke-width="0.85"/>
<line x1="400.50" y1="337.01" x2="400.50" y2="341.69" stroke="#1a1a1a" stroke-width="0.6" />
<line x1="399.20" y1="337.01" x2="401.80" y2="337.01" stroke="#1a1a1a" stroke-width="0.6" />
<line x1="399.20" y1="341.69" x2="401.80" y2="341.69" stroke="#1a1a1a" stroke-width="0.6" />
<rect x="399.20" y="338.05" width="2.6" height="2.6" fill="#1a1a1a"/>
<line x1="432.35" y1="331.39" x2="432.35" y2="340.75" stroke="#1a1a1a" stroke-width="0.6" />
<line x1="431.05" y1="331.39" x2="433.65" y2="331.39" stroke="#1a1a1a" stroke-width="0.6" />
<line x1="431.05" y1="340.75" x2="433.65" y2="340.75" stroke="#1a1a1a" stroke-width="0.6" />
<rect x="431.05" y="334.77" width="2.6" height="2.6" fill="#1a1a1a"/>
<line x1="464.20" y1="312.44" x2="464.20" y2="324.14" stroke="#1a1a1a" stroke-width="0.6" />
<line x1="462.90" y1="312.44" x2="465.50" y2="312.44" stroke="#1a1a1a" stroke-width="0.6" />
<line x1="462.90" y1="324.14" x2="465.50" y2="324.14" stroke="#1a1a1a" stroke-width="0.6" />
<rect x="462.90" y="316.99" width="2.6" height="2.6" fill="#1a1a1a"/>
<line x1="496.05" y1="294.19" x2="496.05" y2="298.87" stroke="#1a1a1a" stroke-width="0.6" />
<line x1="494.75" y1="294.19" x2="497.35" y2="294.19" stroke="#1a1a1a" stroke-width="0.6" />
<line x1="494.75" y1="298.87" x2="497.35" y2="298.87" stroke="#1a1a1a" stroke-width="0.6" />
<rect x="494.75" y="295.23" width="2.6" height="2.6" fill="#1a1a1a"/>
<path d="M400.50 339.35 L432.35 338.18 L464.20 321.57 L496.05 299.57" fill="none" stroke="#1a1a1a" stroke-width="0.85"/>
<line x1="400.50" y1="337.01" x2="400.50" y2="341.69" stroke="#1a1a1a" stroke-width="0.6" />
<line x1="399.20" y1="337.01" x2="401.80" y2="337.01" stroke="#1a1a1a" stroke-width="0.6" />
<line x1="399.20" y1="341.69" x2="401.80" y2="341.69" stroke="#1a1a1a" stroke-width="0.6" />
<path d="M400.50 337.79 L402.00 340.52 L399.00 340.52 Z" fill="#1a1a1a"/>
<line x1="432.35" y1="334.67" x2="432.35" y2="341.69" stroke="#1a1a1a" stroke-width="0.6" />
<line x1="431.05" y1="334.67" x2="433.65" y2="334.67" stroke="#1a1a1a" stroke-width="0.6" />
<line x1="431.05" y1="341.69" x2="433.65" y2="341.69" stroke="#1a1a1a" stroke-width="0.6" />
<path d="M432.35 336.62 L433.85 339.35 L430.86 339.35 Z" fill="#1a1a1a"/>
<line x1="464.20" y1="315.72" x2="464.20" y2="327.42" stroke="#1a1a1a" stroke-width="0.6" />
<line x1="462.90" y1="315.72" x2="465.50" y2="315.72" stroke="#1a1a1a" stroke-width="0.6" />
<line x1="462.90" y1="327.42" x2="465.50" y2="327.42" stroke="#1a1a1a" stroke-width="0.6" />
<path d="M464.20 320.01 L465.69 322.74 L462.70 322.74 Z" fill="#1a1a1a"/>
<line x1="496.05" y1="297.23" x2="496.05" y2="301.91" stroke="#1a1a1a" stroke-width="0.6" />
<line x1="494.75" y1="297.23" x2="497.35" y2="297.23" stroke="#1a1a1a" stroke-width="0.6" />
<line x1="494.75" y1="301.91" x2="497.35" y2="301.91" stroke="#1a1a1a" stroke-width="0.6" />
<path d="M496.05 298.01 L497.55 300.74 L494.56 300.74 Z" fill="#1a1a1a"/>
<line x1="402.80" y1="287.20" x2="414.80" y2="287.20" stroke="#1a1a1a" stroke-width="0.75" />
<circle cx="408.80" cy="287.20" r="1.2" fill="#1a1a1a"/>
<text x="418.60" y="289.50" font-size="6.4" text-anchor="start" fill="#1a1a1a" stroke="#1a1a1a" stroke-width="0.12" >Nontargeting</text>
<line x1="402.80" y1="295.70" x2="414.80" y2="295.70" stroke="#1a1a1a" stroke-width="0.75" />
<rect x="407.60" y="294.50" width="2.4" height="2.4" fill="#1a1a1a"/>
<text x="418.60" y="298.00" font-size="6.4" text-anchor="start" fill="#1a1a1a" stroke="#1a1a1a" stroke-width="0.12" >IL15R siRNA#0</text>
<line x1="402.80" y1="304.50" x2="414.80" y2="304.50" stroke="#1a1a1a" stroke-width="0.75" />
<path d="M408.80 303.06 L410.18 305.58 L407.42 305.58 Z" fill="#1a1a1a"/>
<text x="418.60" y="306.80" font-size="6.4" text-anchor="start" fill="#1a1a1a" stroke="#1a1a1a" stroke-width="0.12" >IL15R siRNA#2</text>
<text x="13.70" y="409.10" font-size="11.8" text-anchor="start" fill="#000" stroke="#000" stroke-width="0.25" font-weight="bold" >H</text>
<text x="120.00" y="408.75" font-size="9.4" text-anchor="middle" fill="#1a1a1a" stroke="#1a1a1a" stroke-width="0.25" >BT549</text>
<line x1="67.50" y1="411.40" x2="67.50" y2="494.25" stroke="#1a1a1a" stroke-width="0.8" />
<line x1="67.10" y1="494.25" x2="173.80" y2="494.25" stroke="#1a1a1a" stroke-width="0.8" />
<line x1="64.50" y1="494.25" x2="67.50" y2="494.25" stroke="#1a1a1a" stroke-width="0.8" />
<text x="63.00" y="497.45" font-size="9.5" text-anchor="end" fill="#1a1a1a" stroke="#1a1a1a" stroke-width="0.25" >0</text>
<line x1="64.50" y1="464.25" x2="67.50" y2="464.25" stroke="#1a1a1a" stroke-width="0.8" />
<text x="63.00" y="467.45" font-size="9.5" text-anchor="end" fill="#1a1a1a" stroke="#1a1a1a" stroke-width="0.25" >2</text>
<line x1="64.50" y1="434.25" x2="67.50" y2="434.25" stroke="#1a1a1a" stroke-width="0.8" />
<text x="63.00" y="437.45" font-size="9.5" text-anchor="end" fill="#1a1a1a" stroke="#1a1a1a" stroke-width="0.25" >4</text>
<line x1="67.50" y1="494.25" x2="67.50" y2="497.25" stroke="#1a1a1a" stroke-width="0.8" />
<text x="67.50" y="507.20" font-size="9.5" text-anchor="middle" fill="#1a1a1a" stroke="#1a1a1a" stroke-width="0.25" >0</text>
<line x1="99.15" y1="494.25" x2="99.15" y2="497.25" stroke="#1a1a1a" stroke-width="0.8" />
<text x="99.15" y="507.20" font-size="9.5" text-anchor="middle" fill="#1a1a1a" stroke="#1a1a1a" stroke-width="0.25" >24</text>
<line x1="130.80" y1="494.25" x2="130.80" y2="497.25" stroke="#1a1a1a" stroke-width="0.8" />
<text x="130.80" y="507.20" font-size="9.5" text-anchor="middle" fill="#1a1a1a" stroke="#1a1a1a" stroke-width="0.25" >48</text>
<line x1="162.45" y1="494.25" x2="162.45" y2="497.25" stroke="#1a1a1a" stroke-width="0.8" />
<text x="162.45" y="507.20" font-size="9.5" text-anchor="middle" fill="#1a1a1a" stroke="#1a1a1a" stroke-width="0.25" >72</text>
<text x="120.47" y="518.00" font-size="9" text-anchor="middle" fill="#1a1a1a" stroke="#1a1a1a" stroke-width="0.25" >Hours</text>
<text x="52.00" y="453.50" font-size="8.5" text-anchor="middle" fill="#1a1a1a" stroke="#1a1a1a" stroke-width="0.25" transform="rotate(-90 52.00 453.50)" >Fold of control</text>
<path d="M67.50 479.25 L99.15 468.00 L130.80 453.75 L162.45 433.80" fill="none" stroke="#1a1a1a" stroke-width="0.85"/>
<line x1="67.50" y1="475.50" x2="67.50" y2="483.00" stroke="#1a1a1a" stroke-width="0.6" />
<line x1="66.20" y1="475.50" x2="68.80" y2="475.50" stroke="#1a1a1a" stroke-width="0.6" />
<line x1="66.20" y1="483.00" x2="68.80" y2="483.00" stroke="#1a1a1a" stroke-width="0.6" />
<circle cx="67.50" cy="479.25" r="1.3" fill="#1a1a1a"/>
<line x1="99.15" y1="462.00" x2="99.15" y2="474.00" stroke="#1a1a1a" stroke-width="0.6" />
<line x1="97.85" y1="462.00" x2="100.45" y2="462.00" stroke="#1a1a1a" stroke-width="0.6" />
<line x1="97.85" y1="474.00" x2="100.45" y2="474.00" stroke="#1a1a1a" stroke-width="0.6" />
<circle cx="99.15" cy="468.00" r="1.3" fill="#1a1a1a"/>
<line x1="130.80" y1="445.50" x2="130.80" y2="462.00" stroke="#1a1a1a" stroke-width="0.6" />
<line x1="129.50" y1="445.50" x2="132.10" y2="445.50" stroke="#1a1a1a" stroke-width="0.6" />
<line x1="129.50" y1="462.00" x2="132.10" y2="462.00" stroke="#1a1a1a" stroke-width="0.6" />
<circle cx="130.80" cy="453.75" r="1.3" fill="#1a1a1a"/>
<line x1="162.45" y1="421.05" x2="162.45" y2="446.55" stroke="#1a1a1a" stroke-width="0.6" />
<line x1="161.15" y1="421.05" x2="163.75" y2="421.05" stroke="#1a1a1a" stroke-width="0.6" />
<line x1="161.15" y1="446.55" x2="163.75" y2="446.55" stroke="#1a1a1a" stroke-width="0.6" />
<circle cx="162.45" cy="433.80" r="1.3" fill="#1a1a1a"/>
<path d="M67.50 479.25 L99.15 470.70 L130.80 460.05 L162.45 445.80" fill="none" stroke="#1a1a1a" stroke-width="0.85"/>
<line x1="67.50" y1="477.75" x2="67.50" y2="480.75" stroke="#1a1a1a" stroke-width="0.6" />
<line x1="66.20" y1="477.75" x2="68.80" y2="477.75" stroke="#1a1a1a" stroke-width="0.6" />
<line x1="66.20" y1="480.75" x2="68.80" y2="480.75" stroke="#1a1a1a" stroke-width="0.6" />
<rect x="66.20" y="477.95" width="2.6" height="2.6" fill="#1a1a1a"/>
<line x1="99.15" y1="466.20" x2="99.15" y2="475.20" stroke="#1a1a1a" stroke-width="0.6" />
<line x1="97.85" y1="466.20" x2="100.45" y2="466.20" stroke="#1a1a1a" stroke-width="0.6" />
<line x1="97.85" y1="475.20" x2="100.45" y2="475.20" stroke="#1a1a1a" stroke-width="0.6" />
<rect x="97.85" y="469.40" width="2.6" height="2.6" fill="#1a1a1a"/>
<line x1="130.80" y1="452.55" x2="130.80" y2="467.55" stroke="#1a1a1a" stroke-width="0.6" />
<line x1="129.50" y1="452.55" x2="132.10" y2="452.55" stroke="#1a1a1a" stroke-width="0.6" />
<line x1="129.50" y1="467.55" x2="132.10" y2="467.55" stroke="#1a1a1a" stroke-width="0.6" />
<rect x="129.50" y="458.75" width="2.6" height="2.6" fill="#1a1a1a"/>
<line x1="162.45" y1="437.55" x2="162.45" y2="454.05" stroke="#1a1a1a" stroke-width="0.6" />
<line x1="161.15" y1="437.55" x2="163.75" y2="437.55" stroke="#1a1a1a" stroke-width="0.6" />
<line x1="161.15" y1="454.05" x2="163.75" y2="454.05" stroke="#1a1a1a" stroke-width="0.6" />
<rect x="161.15" y="444.50" width="2.6" height="2.6" fill="#1a1a1a"/>
<path d="M67.50 479.25 L99.15 468.45 L130.80 453.75 L162.45 435.30" fill="none" stroke="#1a1a1a" stroke-width="0.85"/>
<line x1="67.50" y1="477.75" x2="67.50" y2="480.75" stroke="#1a1a1a" stroke-width="0.6" />
<line x1="66.20" y1="477.75" x2="68.80" y2="477.75" stroke="#1a1a1a" stroke-width="0.6" />
<line x1="66.20" y1="480.75" x2="68.80" y2="480.75" stroke="#1a1a1a" stroke-width="0.6" />
<path d="M67.50 477.69 L69.00 480.42 L66.00 480.42 Z" fill="#1a1a1a"/>
<line x1="99.15" y1="462.45" x2="99.15" y2="474.45" stroke="#1a1a1a" stroke-width="0.6" />
<line x1="97.85" y1="462.45" x2="100.45" y2="462.45" stroke="#1a1a1a" stroke-width="0.6" />
<line x1="97.85" y1="474.45" x2="100.45" y2="474.45" stroke="#1a1a1a" stroke-width="0.6" />
<path d="M99.15 466.89 L100.65 469.62 L97.66 469.62 Z" fill="#1a1a1a"/>
<line x1="130.80" y1="449.25" x2="130.80" y2="458.25" stroke="#1a1a1a" stroke-width="0.6" />
<line x1="129.50" y1="449.25" x2="132.10" y2="449.25" stroke="#1a1a1a" stroke-width="0.6" />
<line x1="129.50" y1="458.25" x2="132.10" y2="458.25" stroke="#1a1a1a" stroke-width="0.6" />
<path d="M130.80 452.19 L132.30 454.92 L129.31 454.92 Z" fill="#1a1a1a"/>
<line x1="162.45" y1="426.30" x2="162.45" y2="444.30" stroke="#1a1a1a" stroke-width="0.6" />
<line x1="161.15" y1="426.30" x2="163.75" y2="426.30" stroke="#1a1a1a" stroke-width="0.6" />
<line x1="161.15" y1="444.30" x2="163.75" y2="444.30" stroke="#1a1a1a" stroke-width="0.6" />
<path d="M162.45 433.74 L163.94 436.47 L160.95 436.47 Z" fill="#1a1a1a"/>
<line x1="70.75" y1="420.50" x2="83.25" y2="420.50" stroke="#1a1a1a" stroke-width="0.75" />
<circle cx="77.00" cy="420.50" r="1.2" fill="#1a1a1a"/>
<text x="86.25" y="422.80" font-size="6.4" text-anchor="start" fill="#1a1a1a" stroke="#1a1a1a" stroke-width="0.12" >Nontargeting</text>
<line x1="70.75" y1="429.40" x2="83.25" y2="429.40" stroke="#1a1a1a" stroke-width="0.75" />
<rect x="75.80" y="428.20" width="2.4" height="2.4" fill="#1a1a1a"/>
<text x="86.25" y="431.70" font-size="6.4" text-anchor="start" fill="#1a1a1a" stroke="#1a1a1a" stroke-width="0.12" >IL15R siRNA#0</text>
<line x1="70.75" y1="438.40" x2="83.25" y2="438.40" stroke="#1a1a1a" stroke-width="0.75" />
<path d="M77.00 436.96 L78.38 439.48 L75.62 439.48 Z" fill="#1a1a1a"/>
<text x="86.25" y="440.70" font-size="6.4" text-anchor="start" fill="#1a1a1a" stroke="#1a1a1a" stroke-width="0.12" >IL15R siRNA#2</text>
<text x="13.90" y="148.50" font-size="11.8" text-anchor="start" fill="#000" stroke="#000" stroke-width="0.25" font-weight="bold" >C</text>
<text x="61.50" y="166.00" font-size="9.8" text-anchor="middle" fill="#1a1a1a" stroke="#1a1a1a" stroke-width="0.25" >Control</text>
<text x="101.60" y="154.50" font-size="9.8" text-anchor="middle" fill="#1a1a1a" stroke="#1a1a1a" stroke-width="0.25" >Non-</text>
<text x="102.30" y="166.00" font-size="9.8" text-anchor="middle" fill="#1a1a1a" stroke="#1a1a1a" stroke-width="0.25" >targeting</text>
<text x="140.00" y="154.50" font-size="9.8" text-anchor="middle" fill="#1a1a1a" stroke="#1a1a1a" stroke-width="0.25" >IL15R</text>
<text x="177.50" y="154.50" font-size="9.8" text-anchor="middle" fill="#1a1a1a" stroke="#1a1a1a" stroke-width="0.25" >IL15R</text>
<text x="215.50" y="154.50" font-size="9.8" text-anchor="middle" fill="#1a1a1a" stroke="#1a1a1a" stroke-width="0.25" >IL15R</text>
<text x="140.00" y="165.70" font-size="9.8" text-anchor="middle" fill="#1a1a1a" stroke="#1a1a1a" stroke-width="0.25" >sh1</text>
<text x="177.50" y="165.70" font-size="9.8" text-anchor="middle" fill="#1a1a1a" stroke="#1a1a1a" stroke-width="0.25" >sh2</text>
<text x="215.50" y="165.70" font-size="9.8" text-anchor="middle" fill="#1a1a1a" stroke="#1a1a1a" stroke-width="0.25" >sh3</text>
<defs><radialGradient id="gcol"><stop offset="0" stop-color="#7a7a7a"/><stop offset="0.14" stop-color="#a0a0a0"/><stop offset="0.38" stop-color="#c4c4c4"/><stop offset="0.75" stop-color="#d6d6d6"/><stop offset="1" stop-color="#e4e4e4"/></radialGradient><radialGradient id="gcol2"><stop offset="0" stop-color="#858585"/><stop offset="0.12" stop-color="#adadad"/><stop offset="0.34" stop-color="#cecece"/><stop offset="0.72" stop-color="#dedede"/><stop offset="1" stop-color="#ebebeb"/></radialGradient><radialGradient id="gcol3"><stop offset="0" stop-color="#808080"/><stop offset="0.12" stop-color="#a6a6a6"/><stop offset="0.34" stop-color="#c6c6c6"/><stop offset="0.75" stop-color="#d6d6d6"/><stop offset="1" stop-color="#e0e0e0"/></radialGradient><filter id="b1" x="-20%" y="-20%" width="140%" height="140%"><feGaussianBlur stdDeviation="0.65"/></filter><filter id="b2" x="-30%" y="-60%" width="160%" height="220%"><feGaussianBlur stdDeviation="1.0"/></filter><filter id="b3" x="-20%" y="-40%" width="140%" height="180%"><feGaussianBlur stdDeviation="0.6"/></filter></defs>
<g filter="url(#b1)">
<rect x="44.90" y="171.00" width="36.00" height="70.30" fill="#ebebeb" />
<rect x="44.90" y="239.10" width="36.00" height="2.20" fill="#d6d6d6" />
<rect x="44.90" y="171.00" width="1.60" height="70.30" fill="#e0e0e0" />
<circle cx="62.90" cy="187.4" r="16.0" fill="#f1f1f1" stroke="#acacac" stroke-width="1.4"/>
<circle cx="62.90" cy="187.4" r="14.0" fill="url(#gcol2)"/>
<circle cx="53.61" cy="190.27" r="0.77" fill="#c6c6c6"/>
<circle cx="53.85" cy="189.38" r="0.63" fill="#c6c6c6"/>
<circle cx="66.61" cy="195.93" r="0.65" fill="#c6c6c6"/>
<circle cx="63.96" cy="183.56" r="0.52" fill="#c6c6c6"/>
<circle cx="72.75" cy="193.71" r="0.68" fill="#c6c6c6"/>
<circle cx="75.34" cy="190.75" r="0.79" fill="#c6c6c6"/>
<circle cx="57.11" cy="179.00" r="0.46" fill="#c6c6c6"/>
<circle cx="72.31" cy="188.29" r="0.42" fill="#c6c6c6"/>
<circle cx="65.25" cy="193.35" r="0.41" fill="#c6c6c6"/>
<circle cx="54.49" cy="189.34" r="0.74" fill="#c6c6c6"/>
<circle cx="52.57" cy="186.15" r="0.60" fill="#c6c6c6"/>
<circle cx="58.30" cy="179.91" r="0.51" fill="#c6c6c6"/>
<circle cx="75.87" cy="187.21" r="0.74" fill="#c6c6c6"/>
<circle cx="60.99" cy="180.36" r="0.49" fill="#c6c6c6"/>
<circle cx="62.06" cy="190.74" r="0.71" fill="#c6c6c6"/>
<circle cx="53.21" cy="194.41" r="0.55" fill="#c6c6c6"/>
<circle cx="74.45" cy="184.28" r="0.40" fill="#c6c6c6"/>
<circle cx="66.01" cy="199.41" r="0.59" fill="#c6c6c6"/>
<circle cx="71.03" cy="186.39" r="0.43" fill="#c6c6c6"/>
<circle cx="55.02" cy="179.07" r="0.51" fill="#c6c6c6"/>
<circle cx="69.30" cy="191.30" r="0.79" fill="#c6c6c6"/>
<circle cx="63.13" cy="182.94" r="0.50" fill="#c6c6c6"/>
<circle cx="65.46" cy="189.29" r="0.72" fill="#c6c6c6"/>
<circle cx="67.17" cy="196.14" r="0.58" fill="#c6c6c6"/>
<circle cx="66.95" cy="197.76" r="0.45" fill="#c6c6c6"/>
<circle cx="60.15" cy="183.92" r="0.57" fill="#c6c6c6"/>
<circle cx="64.46" cy="193.97" r="0.79" fill="#c6c6c6"/>
<circle cx="65.26" cy="180.63" r="0.75" fill="#c6c6c6"/>
<circle cx="64.89" cy="195.32" r="0.74" fill="#c6c6c6"/>
<circle cx="60.31" cy="184.20" r="0.80" fill="#c6c6c6"/>
<circle cx="64.41" cy="193.83" r="0.71" fill="#c6c6c6"/>
<circle cx="59.53" cy="193.62" r="0.43" fill="#c6c6c6"/>
<circle cx="71.28" cy="192.72" r="0.50" fill="#c6c6c6"/>
<circle cx="56.53" cy="182.69" r="0.58" fill="#c6c6c6"/>
<circle cx="71.65" cy="185.10" r="0.63" fill="#c6c6c6"/>
<circle cx="66.62" cy="183.27" r="0.46" fill="#c6c6c6"/>
<circle cx="72.76" cy="181.00" r="0.50" fill="#c6c6c6"/>
<circle cx="67.03" cy="197.79" r="0.78" fill="#c6c6c6"/>
<circle cx="67.07" cy="199.36" r="0.75" fill="#c6c6c6"/>
<circle cx="56.18" cy="182.29" r="0.44" fill="#c6c6c6"/>
<circle cx="75.28" cy="190.47" r="0.50" fill="#c6c6c6"/>
<circle cx="61.04" cy="181.08" r="0.73" fill="#c6c6c6"/>
<circle cx="57.11" cy="183.39" r="0.47" fill="#c6c6c6"/>
<circle cx="62.27" cy="184.05" r="0.49" fill="#c6c6c6"/>
<circle cx="51.72" cy="183.03" r="0.65" fill="#c6c6c6"/>
<circle cx="60.55" cy="199.63" r="0.48" fill="#c6c6c6"/>
<circle cx="69.61" cy="188.10" r="0.58" fill="#c6c6c6"/>
<circle cx="67.97" cy="189.42" r="0.55" fill="#c6c6c6"/>
<circle cx="58.66" cy="185.33" r="0.54" fill="#c6c6c6"/>
<circle cx="72.87" cy="179.25" r="0.66" fill="#c6c6c6"/>
<circle cx="59.31" cy="178.13" r="0.46" fill="#c6c6c6"/>
<circle cx="64.60" cy="187.78" r="0.76" fill="#c6c6c6"/>
<circle cx="59.03" cy="175.24" r="0.41" fill="#c6c6c6"/>
<circle cx="56.98" cy="180.58" r="0.69" fill="#c6c6c6"/>
<circle cx="57.45" cy="199.20" r="0.43" fill="#c6c6c6"/>
<circle cx="52.20" cy="184.21" r="0.76" fill="#c6c6c6"/>
<circle cx="62.02" cy="176.53" r="0.72" fill="#c6c6c6"/>
<circle cx="69.54" cy="183.47" r="0.67" fill="#c6c6c6"/>
<circle cx="72.75" cy="180.32" r="0.57" fill="#c6c6c6"/>
<circle cx="65.94" cy="175.71" r="0.63" fill="#c6c6c6"/>
<circle cx="63.05" cy="187.26" r="2.3" fill="#7c7c7c" opacity="0.75"/>
<circle cx="61.05" cy="186.34" r="0.55" fill="#8a8a8a"/>
<circle cx="64.16" cy="186.21" r="0.40" fill="#a4a4a4"/>
<circle cx="62.31" cy="181.10" r="0.43" fill="#8a8a8a"/>
<circle cx="59.39" cy="187.08" r="0.45" fill="#a4a4a4"/>
<circle cx="61.62" cy="187.55" r="0.49" fill="#909090"/>
<circle cx="57.38" cy="178.68" r="0.36" fill="#909090"/>
<circle cx="66.08" cy="187.63" r="0.43" fill="#9a9a9a"/>
<circle cx="63.13" cy="177.80" r="0.46" fill="#a4a4a4"/>
<circle cx="58.56" cy="189.06" r="0.35" fill="#a4a4a4"/>
<circle cx="59.49" cy="188.98" r="0.52" fill="#9a9a9a"/>
<circle cx="59.10" cy="190.77" r="0.33" fill="#9a9a9a"/>
<circle cx="61.17" cy="189.76" r="0.48" fill="#8a8a8a"/>
<circle cx="63.55" cy="187.19" r="0.42" fill="#909090"/>
<circle cx="66.50" cy="185.59" r="0.40" fill="#909090"/>
<circle cx="57.93" cy="186.77" r="0.38" fill="#909090"/>
<circle cx="67.37" cy="179.11" r="0.52" fill="#a4a4a4"/>
<circle cx="65.07" cy="187.98" r="0.46" fill="#a4a4a4"/>
<circle cx="55.13" cy="184.09" r="0.40" fill="#9a9a9a"/>
<circle cx="63.13" cy="187.99" r="0.50" fill="#9a9a9a"/>
<circle cx="68.12" cy="186.87" r="0.41" fill="#8a8a8a"/>
<circle cx="58.21" cy="182.41" r="0.47" fill="#8a8a8a"/>
<circle cx="66.06" cy="196.98" r="0.36" fill="#909090"/>
<circle cx="62.84" cy="187.14" r="0.34" fill="#8a8a8a"/>
<circle cx="61.74" cy="195.63" r="0.43" fill="#a4a4a4"/>
<circle cx="62.93" cy="187.45" r="0.32" fill="#9a9a9a"/>
<circle cx="63.46" cy="187.15" r="0.35" fill="#909090"/>
<circle cx="65.55" cy="185.13" r="0.39" fill="#8a8a8a"/>
<circle cx="54.99" cy="183.75" r="0.42" fill="#a4a4a4"/>
<circle cx="58.11" cy="180.69" r="0.32" fill="#9a9a9a"/>
<circle cx="65.94" cy="184.00" r="0.35" fill="#8a8a8a"/>
<circle cx="71.09" cy="186.39" r="0.37" fill="#a4a4a4"/>
<circle cx="62.67" cy="186.24" r="0.39" fill="#8a8a8a"/>
<circle cx="69.77" cy="191.33" r="0.42" fill="#a4a4a4"/>
<circle cx="65.93" cy="187.95" r="0.41" fill="#8a8a8a"/>
<circle cx="72.67" cy="189.59" r="0.42" fill="#9a9a9a"/>
<circle cx="65.02" cy="187.40" r="0.54" fill="#909090"/>
<circle cx="60.20" cy="187.53" r="0.41" fill="#9a9a9a"/>
<circle cx="62.07" cy="187.08" r="0.43" fill="#9a9a9a"/>
<circle cx="65.90" cy="182.91" r="0.54" fill="#909090"/>
<circle cx="64.36" cy="185.84" r="0.38" fill="#9a9a9a"/>
<circle cx="66.16" cy="191.40" r="0.35" fill="#909090"/>
<circle cx="61.45" cy="187.07" r="0.45" fill="#8a8a8a"/>
<circle cx="70.73" cy="188.78" r="0.44" fill="#909090"/>
<circle cx="64.44" cy="187.30" r="0.42" fill="#8a8a8a"/>
<circle cx="60.13" cy="180.27" r="0.53" fill="#909090"/>
<circle cx="63.95" cy="184.20" r="0.37" fill="#909090"/>
<circle cx="57.97" cy="188.24" r="0.43" fill="#909090"/>
<circle cx="66.88" cy="190.64" r="0.45" fill="#909090"/>
<circle cx="70.06" cy="183.77" r="0.31" fill="#8a8a8a"/>
<circle cx="67.65" cy="194.44" r="0.47" fill="#8a8a8a"/>
<circle cx="60.39" cy="192.56" r="0.42" fill="#8a8a8a"/>
<circle cx="56.49" cy="183.76" r="0.48" fill="#a4a4a4"/>
<circle cx="62.58" cy="186.39" r="0.51" fill="#909090"/>
<line x1="60.60" y1="185.35" x2="55.19" y2="180.54" stroke="#a8a8a8" stroke-width="0.5"/>
<line x1="60.52" y1="186.88" x2="55.98" y2="185.90" stroke="#a8a8a8" stroke-width="0.5"/>
<line x1="59.84" y1="186.55" x2="56.46" y2="185.62" stroke="#a8a8a8" stroke-width="0.5"/>
<line x1="65.70" y1="185.74" x2="69.56" y2="183.45" stroke="#a8a8a8" stroke-width="0.5"/>
<line x1="64.24" y1="190.31" x2="67.28" y2="196.89" stroke="#a8a8a8" stroke-width="0.5"/>
<line x1="64.11" y1="190.74" x2="65.27" y2="193.96" stroke="#a8a8a8" stroke-width="0.5"/>
<line x1="66.00" y1="189.56" x2="68.37" y2="191.21" stroke="#a8a8a8" stroke-width="0.5"/>
<line x1="65.26" y1="188.86" x2="69.85" y2="191.70" stroke="#a8a8a8" stroke-width="0.5"/>
<line x1="65.78" y1="186.29" x2="71.78" y2="183.96" stroke="#a8a8a8" stroke-width="0.5"/>
<circle cx="62.90" cy="223.5" r="16.0" fill="#f1f1f1" stroke="#acacac" stroke-width="1.4"/>
<circle cx="62.90" cy="223.5" r="14.0" fill="url(#gcol)"/>
<circle cx="66.04" cy="233.31" r="0.72" fill="#c6c6c6"/>
<circle cx="70.98" cy="229.07" r="0.54" fill="#c6c6c6"/>
<circle cx="66.27" cy="216.45" r="0.68" fill="#c6c6c6"/>
<circle cx="57.85" cy="217.80" r="0.80" fill="#c6c6c6"/>
<circle cx="68.70" cy="213.40" r="0.59" fill="#c6c6c6"/>
<circle cx="74.12" cy="225.23" r="0.65" fill="#c6c6c6"/>
<circle cx="70.36" cy="218.44" r="0.48" fill="#c6c6c6"/>
<circle cx="66.95" cy="227.07" r="0.46" fill="#c6c6c6"/>
<circle cx="60.70" cy="233.93" r="0.63" fill="#c6c6c6"/>
<circle cx="70.02" cy="231.52" r="0.43" fill="#c6c6c6"/>
<circle cx="69.57" cy="228.14" r="0.57" fill="#c6c6c6"/>
<circle cx="59.26" cy="228.22" r="0.55" fill="#c6c6c6"/>
<circle cx="61.15" cy="221.54" r="0.48" fill="#c6c6c6"/>
<circle cx="56.37" cy="227.76" r="0.55" fill="#c6c6c6"/>
<circle cx="71.82" cy="218.73" r="0.44" fill="#c6c6c6"/>
<circle cx="64.84" cy="216.36" r="0.43" fill="#c6c6c6"/>
<circle cx="69.54" cy="213.31" r="0.76" fill="#c6c6c6"/>
<circle cx="72.01" cy="219.86" r="0.48" fill="#c6c6c6"/>
<circle cx="56.36" cy="219.65" r="0.70" fill="#c6c6c6"/>
<circle cx="62.08" cy="227.86" r="0.70" fill="#c6c6c6"/>
<circle cx="69.63" cy="234.11" r="0.45" fill="#c6c6c6"/>
<circle cx="58.31" cy="231.87" r="0.55" fill="#c6c6c6"/>
<circle cx="57.86" cy="225.81" r="0.48" fill="#c6c6c6"/>
<circle cx="67.52" cy="234.15" r="0.52" fill="#c6c6c6"/>
<circle cx="72.77" cy="230.75" r="0.80" fill="#c6c6c6"/>
<circle cx="65.27" cy="221.84" r="0.51" fill="#c6c6c6"/>
<circle cx="69.80" cy="221.79" r="0.49" fill="#c6c6c6"/>
<circle cx="58.29" cy="226.58" r="0.43" fill="#c6c6c6"/>
<circle cx="53.77" cy="222.65" r="0.49" fill="#c6c6c6"/>
<circle cx="68.87" cy="229.08" r="0.63" fill="#c6c6c6"/>
<circle cx="66.11" cy="226.32" r="0.49" fill="#c6c6c6"/>
<circle cx="54.24" cy="226.70" r="0.70" fill="#c6c6c6"/>
<circle cx="62.09" cy="222.42" r="0.50" fill="#c6c6c6"/>
<circle cx="61.68" cy="230.99" r="0.62" fill="#c6c6c6"/>
<circle cx="54.81" cy="228.24" r="0.74" fill="#c6c6c6"/>
<circle cx="69.92" cy="228.58" r="0.66" fill="#c6c6c6"/>
<circle cx="52.78" cy="220.25" r="0.78" fill="#c6c6c6"/>
<circle cx="53.38" cy="231.74" r="0.55" fill="#c6c6c6"/>
<circle cx="74.71" cy="221.25" r="0.62" fill="#c6c6c6"/>
<circle cx="55.90" cy="218.64" r="0.60" fill="#c6c6c6"/>
<circle cx="61.14" cy="231.52" r="0.52" fill="#c6c6c6"/>
<circle cx="54.03" cy="221.78" r="0.51" fill="#c6c6c6"/>
<circle cx="72.47" cy="218.96" r="0.70" fill="#c6c6c6"/>
<circle cx="74.16" cy="225.42" r="0.63" fill="#c6c6c6"/>
<circle cx="57.33" cy="217.33" r="0.67" fill="#c6c6c6"/>
<circle cx="69.80" cy="225.88" r="0.56" fill="#c6c6c6"/>
<circle cx="53.27" cy="218.07" r="0.53" fill="#c6c6c6"/>
<circle cx="64.71" cy="217.62" r="0.69" fill="#c6c6c6"/>
<circle cx="62.83" cy="234.80" r="0.42" fill="#c6c6c6"/>
<circle cx="72.43" cy="230.29" r="0.76" fill="#c6c6c6"/>
<circle cx="70.75" cy="233.53" r="0.50" fill="#c6c6c6"/>
<circle cx="62.11" cy="220.69" r="0.57" fill="#c6c6c6"/>
<circle cx="71.80" cy="231.64" r="0.54" fill="#c6c6c6"/>
<circle cx="67.32" cy="229.97" r="0.46" fill="#c6c6c6"/>
<circle cx="54.16" cy="228.52" r="0.66" fill="#c6c6c6"/>
<circle cx="59.65" cy="216.36" r="0.70" fill="#c6c6c6"/>
<circle cx="64.81" cy="219.09" r="0.52" fill="#c6c6c6"/>
<circle cx="69.12" cy="230.03" r="0.60" fill="#c6c6c6"/>
<circle cx="59.57" cy="232.14" r="0.74" fill="#c6c6c6"/>
<circle cx="61.33" cy="233.53" r="0.69" fill="#c6c6c6"/>
<circle cx="61.12" cy="218.12" r="0.51" fill="#c6c6c6"/>
<circle cx="63.74" cy="236.16" r="0.60" fill="#c6c6c6"/>
<circle cx="59.60" cy="218.78" r="0.67" fill="#c6c6c6"/>
<circle cx="62.02" cy="222.59" r="0.50" fill="#c6c6c6"/>
<circle cx="65.40" cy="223.93" r="0.49" fill="#c6c6c6"/>
<circle cx="60.90" cy="234.62" r="0.77" fill="#c6c6c6"/>
<circle cx="66.25" cy="228.84" r="0.79" fill="#c6c6c6"/>
<circle cx="55.20" cy="224.28" r="0.54" fill="#c6c6c6"/>
<circle cx="58.16" cy="223.67" r="0.75" fill="#c6c6c6"/>
<circle cx="65.70" cy="215.27" r="0.73" fill="#c6c6c6"/>
<circle cx="68.89" cy="213.80" r="0.58" fill="#c6c6c6"/>
<circle cx="62.76" cy="215.38" r="0.46" fill="#c6c6c6"/>
<circle cx="69.68" cy="233.27" r="0.64" fill="#c6c6c6"/>
<circle cx="60.02" cy="234.45" r="0.73" fill="#c6c6c6"/>
<circle cx="67.14" cy="233.12" r="0.63" fill="#c6c6c6"/>
<circle cx="55.71" cy="225.25" r="0.62" fill="#c6c6c6"/>
<circle cx="53.98" cy="227.56" r="0.73" fill="#c6c6c6"/>
<circle cx="51.41" cy="226.18" r="0.40" fill="#c6c6c6"/>
<circle cx="58.32" cy="235.03" r="0.64" fill="#c6c6c6"/>
<circle cx="59.81" cy="214.89" r="0.71" fill="#c6c6c6"/>
<circle cx="57.16" cy="234.27" r="0.49" fill="#c6c6c6"/>
<circle cx="58.81" cy="217.29" r="0.76" fill="#c6c6c6"/>
<circle cx="59.10" cy="231.25" r="0.64" fill="#c6c6c6"/>
<circle cx="71.71" cy="217.30" r="0.51" fill="#c6c6c6"/>
<circle cx="50.18" cy="221.06" r="0.58" fill="#c6c6c6"/>
<circle cx="65.20" cy="236.08" r="0.69" fill="#c6c6c6"/>
<circle cx="59.15" cy="223.12" r="0.73" fill="#c6c6c6"/>
<circle cx="73.47" cy="225.11" r="0.63" fill="#c6c6c6"/>
<circle cx="66.09" cy="212.79" r="0.55" fill="#c6c6c6"/>
<circle cx="58.95" cy="226.75" r="0.64" fill="#c6c6c6"/>
<circle cx="62.51" cy="223.01" r="2.3" fill="#7c7c7c" opacity="0.75"/>
<circle cx="61.93" cy="223.78" r="0.50" fill="#a4a4a4"/>
<circle cx="63.56" cy="227.13" r="0.54" fill="#a4a4a4"/>
<circle cx="62.08" cy="222.36" r="0.32" fill="#909090"/>
<circle cx="62.26" cy="223.31" r="0.37" fill="#8a8a8a"/>
<circle cx="65.06" cy="225.18" r="0.32" fill="#a4a4a4"/>
<circle cx="58.32" cy="218.37" r="0.36" fill="#909090"/>
<circle cx="64.51" cy="232.09" r="0.49" fill="#a4a4a4"/>
<circle cx="55.61" cy="229.20" r="0.42" fill="#9a9a9a"/>
<circle cx="62.20" cy="219.69" r="0.49" fill="#909090"/>
<circle cx="59.08" cy="228.82" r="0.52" fill="#8a8a8a"/>
<circle cx="63.05" cy="223.46" r="0.43" fill="#8a8a8a"/>
<circle cx="62.34" cy="221.30" r="0.53" fill="#909090"/>
<circle cx="63.08" cy="230.15" r="0.55" fill="#9a9a9a"/>
<circle cx="61.31" cy="225.08" r="0.43" fill="#909090"/>
<circle cx="62.31" cy="227.40" r="0.42" fill="#8a8a8a"/>
<circle cx="62.74" cy="222.22" r="0.53" fill="#9a9a9a"/>
<circle cx="62.97" cy="219.81" r="0.45" fill="#8a8a8a"/>
<circle cx="65.54" cy="221.81" r="0.39" fill="#9a9a9a"/>
<circle cx="62.28" cy="223.12" r="0.45" fill="#909090"/>
<circle cx="63.25" cy="225.64" r="0.53" fill="#9a9a9a"/>
<circle cx="67.53" cy="221.58" r="0.51" fill="#909090"/>
<circle cx="57.75" cy="215.35" r="0.42" fill="#8a8a8a"/>
<circle cx="64.49" cy="218.75" r="0.54" fill="#909090"/>
<circle cx="63.40" cy="221.78" r="0.46" fill="#8a8a8a"/>
<circle cx="63.81" cy="235.16" r="0.52" fill="#8a8a8a"/>
<circle cx="66.88" cy="220.80" r="0.45" fill="#909090"/>
<circle cx="63.76" cy="224.80" r="0.49" fill="#9a9a9a"/>
<circle cx="69.20" cy="231.60" r="0.46" fill="#9a9a9a"/>
<circle cx="69.58" cy="223.21" r="0.43" fill="#a4a4a4"/>
<circle cx="66.48" cy="224.74" r="0.51" fill="#9a9a9a"/>
<circle cx="63.94" cy="221.99" r="0.32" fill="#9a9a9a"/>
<circle cx="62.82" cy="224.13" r="0.47" fill="#909090"/>
<circle cx="65.48" cy="224.98" r="0.30" fill="#a4a4a4"/>
<circle cx="64.26" cy="226.79" r="0.35" fill="#909090"/>
<circle cx="53.72" cy="220.93" r="0.34" fill="#909090"/>
<circle cx="63.98" cy="221.60" r="0.44" fill="#8a8a8a"/>
<circle cx="68.27" cy="223.41" r="0.39" fill="#8a8a8a"/>
<circle cx="60.86" cy="218.61" r="0.49" fill="#909090"/>
<circle cx="63.79" cy="219.45" r="0.46" fill="#8a8a8a"/>
<circle cx="70.45" cy="224.09" r="0.37" fill="#9a9a9a"/>
<circle cx="68.48" cy="228.32" r="0.51" fill="#8a8a8a"/>
<circle cx="64.46" cy="221.20" r="0.37" fill="#9a9a9a"/>
<circle cx="61.14" cy="223.05" r="0.44" fill="#909090"/>
<circle cx="67.87" cy="226.52" r="0.35" fill="#9a9a9a"/>
<circle cx="62.00" cy="215.81" r="0.48" fill="#909090"/>
<circle cx="64.34" cy="220.76" r="0.33" fill="#8a8a8a"/>
<circle cx="61.52" cy="222.02" r="0.34" fill="#9a9a9a"/>
<circle cx="59.08" cy="226.20" r="0.33" fill="#8a8a8a"/>
<circle cx="70.44" cy="225.05" r="0.41" fill="#8a8a8a"/>
<circle cx="63.80" cy="216.75" r="0.46" fill="#9a9a9a"/>
<circle cx="64.01" cy="213.07" r="0.42" fill="#909090"/>
<circle cx="69.72" cy="219.82" r="0.55" fill="#a4a4a4"/>
<circle cx="64.77" cy="216.17" r="0.37" fill="#8a8a8a"/>
<circle cx="63.85" cy="225.85" r="0.35" fill="#909090"/>
<circle cx="59.52" cy="229.40" r="0.51" fill="#a4a4a4"/>
<circle cx="58.13" cy="219.48" r="0.44" fill="#a4a4a4"/>
<circle cx="57.13" cy="231.19" r="0.44" fill="#9a9a9a"/>
<circle cx="60.28" cy="214.09" r="0.44" fill="#9a9a9a"/>
<circle cx="69.08" cy="224.55" r="0.36" fill="#9a9a9a"/>
<circle cx="54.21" cy="218.97" r="0.38" fill="#a4a4a4"/>
<circle cx="67.25" cy="221.42" r="0.41" fill="#8a8a8a"/>
<circle cx="62.17" cy="217.81" r="0.53" fill="#9a9a9a"/>
<circle cx="55.20" cy="221.35" r="0.34" fill="#a4a4a4"/>
<circle cx="62.81" cy="220.29" r="0.45" fill="#a4a4a4"/>
<circle cx="64.70" cy="225.25" r="0.36" fill="#a4a4a4"/>
<circle cx="58.47" cy="221.29" r="0.35" fill="#9a9a9a"/>
<circle cx="61.45" cy="223.05" r="0.50" fill="#9a9a9a"/>
<circle cx="63.62" cy="223.16" r="0.38" fill="#9a9a9a"/>
<circle cx="62.66" cy="223.05" r="0.34" fill="#8a8a8a"/>
<circle cx="57.31" cy="226.95" r="0.34" fill="#8a8a8a"/>
<circle cx="60.06" cy="225.96" r="0.37" fill="#9a9a9a"/>
<circle cx="61.30" cy="222.77" r="0.31" fill="#a4a4a4"/>
<circle cx="63.34" cy="221.45" r="0.54" fill="#909090"/>
<circle cx="53.49" cy="216.65" r="0.39" fill="#909090"/>
<circle cx="68.80" cy="219.02" r="0.49" fill="#909090"/>
<circle cx="58.41" cy="223.90" r="0.51" fill="#909090"/>
<circle cx="66.60" cy="218.74" r="0.53" fill="#8a8a8a"/>
<circle cx="59.07" cy="222.87" r="0.41" fill="#909090"/>
<circle cx="67.55" cy="224.21" r="0.48" fill="#909090"/>
<circle cx="60.37" cy="221.72" r="0.52" fill="#a4a4a4"/>
<circle cx="63.23" cy="223.18" r="0.43" fill="#9a9a9a"/>
<circle cx="52.58" cy="231.33" r="0.42" fill="#8a8a8a"/>
<circle cx="68.51" cy="227.88" r="0.54" fill="#909090"/>
<circle cx="66.19" cy="220.40" r="0.52" fill="#a4a4a4"/>
<circle cx="61.47" cy="224.27" r="0.44" fill="#909090"/>
<circle cx="66.58" cy="220.95" r="0.43" fill="#8a8a8a"/>
<circle cx="67.35" cy="228.24" r="0.30" fill="#909090"/>
<circle cx="63.13" cy="229.43" r="0.31" fill="#a4a4a4"/>
<line x1="64.26" y1="226.04" x2="66.78" y2="230.78" stroke="#a8a8a8" stroke-width="0.5"/>
<line x1="60.66" y1="223.07" x2="53.61" y2="221.70" stroke="#a8a8a8" stroke-width="0.5"/>
<line x1="63.21" y1="226.09" x2="63.90" y2="231.71" stroke="#a8a8a8" stroke-width="0.5"/>
<line x1="61.87" y1="225.94" x2="60.28" y2="229.68" stroke="#a8a8a8" stroke-width="0.5"/>
<line x1="63.49" y1="220.00" x2="64.63" y2="213.25" stroke="#a8a8a8" stroke-width="0.5"/>
<line x1="63.99" y1="227.05" x2="65.67" y2="232.55" stroke="#a8a8a8" stroke-width="0.5"/>
<line x1="65.35" y1="224.45" x2="72.50" y2="227.23" stroke="#a8a8a8" stroke-width="0.5"/>
<line x1="64.54" y1="222.30" x2="70.30" y2="218.07" stroke="#a8a8a8" stroke-width="0.5"/>
<line x1="61.90" y1="220.55" x2="60.11" y2="215.29" stroke="#a8a8a8" stroke-width="0.5"/>
<rect x="83.20" y="171.00" width="37.40" height="70.30" fill="#dcdcdc" />
<rect x="83.20" y="171.00" width="37.40" height="2.00" fill="#cfcfcf" />
<rect x="83.20" y="239.70" width="37.40" height="1.60" fill="#cccccc" />
<circle cx="101.90" cy="187.6" r="16.0" fill="#e6e6e6" stroke="#a2a2a2" stroke-width="1.5"/>
<circle cx="101.90" cy="187.6" r="14.0" fill="url(#gcol3)"/>
<circle cx="103.00" cy="200.22" r="0.79" fill="#c6c6c6"/>
<circle cx="97.68" cy="181.78" r="0.73" fill="#c6c6c6"/>
<circle cx="108.50" cy="185.96" r="0.57" fill="#c6c6c6"/>
<circle cx="107.35" cy="182.41" r="0.78" fill="#c6c6c6"/>
<circle cx="103.41" cy="179.36" r="0.47" fill="#c6c6c6"/>
<circle cx="104.81" cy="184.15" r="0.68" fill="#c6c6c6"/>
<circle cx="100.59" cy="198.55" r="0.60" fill="#c6c6c6"/>
<circle cx="99.98" cy="194.12" r="0.72" fill="#c6c6c6"/>
<circle cx="97.53" cy="186.92" r="0.61" fill="#c6c6c6"/>
<circle cx="114.08" cy="185.84" r="0.47" fill="#c6c6c6"/>
<circle cx="102.61" cy="192.28" r="0.67" fill="#c6c6c6"/>
<circle cx="98.41" cy="188.43" r="0.77" fill="#c6c6c6"/>
<circle cx="112.98" cy="193.14" r="0.40" fill="#c6c6c6"/>
<circle cx="93.75" cy="182.67" r="0.57" fill="#c6c6c6"/>
<circle cx="97.11" cy="185.40" r="0.80" fill="#c6c6c6"/>
<circle cx="103.94" cy="192.71" r="0.69" fill="#c6c6c6"/>
<circle cx="113.27" cy="189.68" r="0.46" fill="#c6c6c6"/>
<circle cx="110.11" cy="181.46" r="0.77" fill="#c6c6c6"/>
<circle cx="101.32" cy="187.26" r="0.76" fill="#c6c6c6"/>
<circle cx="104.96" cy="188.82" r="0.71" fill="#c6c6c6"/>
<circle cx="108.11" cy="183.64" r="0.59" fill="#c6c6c6"/>
<circle cx="108.78" cy="189.00" r="0.73" fill="#c6c6c6"/>
<circle cx="93.36" cy="177.94" r="0.70" fill="#c6c6c6"/>
<circle cx="92.08" cy="185.62" r="0.71" fill="#c6c6c6"/>
<circle cx="108.44" cy="193.16" r="0.67" fill="#c6c6c6"/>
<circle cx="95.62" cy="185.65" r="0.69" fill="#c6c6c6"/>
<circle cx="100.72" cy="181.08" r="0.62" fill="#c6c6c6"/>
<circle cx="107.97" cy="179.53" r="0.50" fill="#c6c6c6"/>
<circle cx="105.67" cy="199.84" r="0.42" fill="#c6c6c6"/>
<circle cx="90.34" cy="191.49" r="0.53" fill="#c6c6c6"/>
<circle cx="94.02" cy="181.22" r="0.72" fill="#c6c6c6"/>
<circle cx="90.85" cy="187.34" r="0.74" fill="#c6c6c6"/>
<circle cx="106.21" cy="188.45" r="0.47" fill="#c6c6c6"/>
<circle cx="95.59" cy="179.98" r="0.69" fill="#c6c6c6"/>
<circle cx="99.74" cy="185.49" r="0.57" fill="#c6c6c6"/>
<circle cx="97.96" cy="176.51" r="0.70" fill="#c6c6c6"/>
<circle cx="104.08" cy="176.44" r="0.60" fill="#c6c6c6"/>
<circle cx="96.44" cy="180.08" r="0.55" fill="#c6c6c6"/>
<circle cx="102.01" cy="196.76" r="0.66" fill="#c6c6c6"/>
<circle cx="94.68" cy="182.63" r="0.53" fill="#c6c6c6"/>
<circle cx="91.27" cy="189.85" r="0.68" fill="#c6c6c6"/>
<circle cx="106.39" cy="186.36" r="0.70" fill="#c6c6c6"/>
<circle cx="98.06" cy="184.78" r="0.70" fill="#c6c6c6"/>
<circle cx="89.11" cy="185.85" r="0.40" fill="#c6c6c6"/>
<circle cx="93.95" cy="192.66" r="0.44" fill="#c6c6c6"/>
<circle cx="93.52" cy="184.52" r="0.77" fill="#c6c6c6"/>
<circle cx="112.45" cy="185.70" r="0.69" fill="#c6c6c6"/>
<circle cx="111.96" cy="186.08" r="0.52" fill="#c6c6c6"/>
<circle cx="110.72" cy="195.77" r="0.57" fill="#c6c6c6"/>
<circle cx="107.21" cy="190.79" r="0.52" fill="#c6c6c6"/>
<circle cx="113.69" cy="183.47" r="0.49" fill="#c6c6c6"/>
<circle cx="107.21" cy="196.01" r="0.80" fill="#c6c6c6"/>
<circle cx="101.13" cy="177.84" r="0.76" fill="#c6c6c6"/>
<circle cx="111.24" cy="179.30" r="0.47" fill="#c6c6c6"/>
<circle cx="109.91" cy="177.91" r="0.49" fill="#c6c6c6"/>
<circle cx="99.81" cy="189.59" r="0.57" fill="#c6c6c6"/>
<circle cx="102.16" cy="199.18" r="0.72" fill="#c6c6c6"/>
<circle cx="93.74" cy="188.62" r="0.64" fill="#c6c6c6"/>
<circle cx="102.44" cy="178.68" r="0.60" fill="#c6c6c6"/>
<circle cx="98.02" cy="183.64" r="0.59" fill="#c6c6c6"/>
<circle cx="101.95" cy="187.50" r="2.3" fill="#7c7c7c" opacity="0.75"/>
<circle cx="104.50" cy="188.39" r="0.43" fill="#8a8a8a"/>
<circle cx="93.05" cy="186.92" r="0.37" fill="#9a9a9a"/>
<circle cx="99.33" cy="190.66" r="0.48" fill="#9a9a9a"/>
<circle cx="102.45" cy="184.40" r="0.31" fill="#8a8a8a"/>
<circle cx="100.24" cy="191.00" r="0.41" fill="#909090"/>
<circle cx="104.22" cy="184.59" r="0.38" fill="#8a8a8a"/>
<circle cx="99.17" cy="185.40" r="0.31" fill="#909090"/>
<circle cx="102.72" cy="188.75" r="0.40" fill="#a4a4a4"/>
<circle cx="100.95" cy="187.73" r="0.43" fill="#9a9a9a"/>
<circle cx="99.15" cy="186.74" r="0.34" fill="#909090"/>
<circle cx="103.80" cy="194.11" r="0.43" fill="#a4a4a4"/>
<circle cx="96.87" cy="189.26" r="0.36" fill="#a4a4a4"/>
<circle cx="100.30" cy="193.52" r="0.45" fill="#a4a4a4"/>
<circle cx="106.00" cy="192.58" r="0.44" fill="#909090"/>
<circle cx="105.18" cy="179.12" r="0.47" fill="#a4a4a4"/>
<circle cx="106.63" cy="189.71" r="0.47" fill="#a4a4a4"/>
<circle cx="108.48" cy="185.69" r="0.36" fill="#a4a4a4"/>
<circle cx="97.86" cy="183.16" r="0.42" fill="#909090"/>
<circle cx="98.11" cy="187.84" r="0.37" fill="#a4a4a4"/>
<circle cx="101.12" cy="185.00" r="0.42" fill="#9a9a9a"/>
<circle cx="101.80" cy="187.44" r="0.53" fill="#a4a4a4"/>
<circle cx="102.89" cy="184.81" r="0.45" fill="#909090"/>
<circle cx="98.94" cy="178.20" r="0.53" fill="#8a8a8a"/>
<circle cx="104.39" cy="189.95" r="0.53" fill="#8a8a8a"/>
<circle cx="100.61" cy="196.84" r="0.42" fill="#a4a4a4"/>
<circle cx="97.75" cy="195.67" r="0.32" fill="#a4a4a4"/>
<circle cx="104.72" cy="188.24" r="0.37" fill="#a4a4a4"/>
<circle cx="99.04" cy="182.54" r="0.46" fill="#9a9a9a"/>
<circle cx="96.07" cy="192.78" r="0.44" fill="#8a8a8a"/>
<circle cx="113.16" cy="183.33" r="0.46" fill="#8a8a8a"/>
<circle cx="97.62" cy="183.54" r="0.32" fill="#a4a4a4"/>
<circle cx="98.30" cy="188.43" r="0.40" fill="#909090"/>
<circle cx="104.87" cy="185.70" r="0.38" fill="#a4a4a4"/>
<circle cx="101.35" cy="188.26" r="0.34" fill="#8a8a8a"/>
<circle cx="102.38" cy="188.88" r="0.43" fill="#9a9a9a"/>
<circle cx="110.90" cy="183.12" r="0.30" fill="#909090"/>
<circle cx="95.52" cy="185.66" r="0.46" fill="#8a8a8a"/>
<circle cx="93.27" cy="184.14" r="0.37" fill="#a4a4a4"/>
<circle cx="111.49" cy="194.93" r="0.47" fill="#9a9a9a"/>
<circle cx="101.33" cy="186.24" r="0.51" fill="#9a9a9a"/>
<circle cx="104.94" cy="192.35" r="0.39" fill="#a4a4a4"/>
<circle cx="100.70" cy="192.87" r="0.36" fill="#909090"/>
<circle cx="101.91" cy="189.51" r="0.52" fill="#9a9a9a"/>
<circle cx="105.64" cy="187.35" r="0.52" fill="#8a8a8a"/>
<circle cx="100.17" cy="191.96" r="0.31" fill="#909090"/>
<circle cx="97.17" cy="183.07" r="0.52" fill="#909090"/>
<circle cx="102.08" cy="187.66" r="0.36" fill="#909090"/>
<circle cx="96.60" cy="181.61" r="0.48" fill="#a4a4a4"/>
<circle cx="99.25" cy="192.65" r="0.44" fill="#9a9a9a"/>
<circle cx="93.29" cy="192.29" r="0.46" fill="#9a9a9a"/>
<circle cx="102.44" cy="186.64" r="0.46" fill="#909090"/>
<circle cx="101.04" cy="190.78" r="0.54" fill="#9a9a9a"/>
<circle cx="97.86" cy="188.32" r="0.37" fill="#9a9a9a"/>
<line x1="101.57" y1="190.08" x2="100.67" y2="196.85" stroke="#a8a8a8" stroke-width="0.5"/>
<line x1="99.36" y1="189.79" x2="96.83" y2="191.97" stroke="#a8a8a8" stroke-width="0.5"/>
<line x1="104.10" y1="190.94" x2="107.60" y2="196.25" stroke="#a8a8a8" stroke-width="0.5"/>
<line x1="102.84" y1="190.15" x2="104.91" y2="195.76" stroke="#a8a8a8" stroke-width="0.5"/>
<line x1="102.80" y1="184.94" x2="105.26" y2="177.63" stroke="#a8a8a8" stroke-width="0.5"/>
<line x1="103.74" y1="184.38" x2="105.31" y2="181.65" stroke="#a8a8a8" stroke-width="0.5"/>
<line x1="104.52" y1="188.78" x2="111.34" y2="191.85" stroke="#a8a8a8" stroke-width="0.5"/>
<line x1="100.46" y1="185.62" x2="96.23" y2="179.84" stroke="#a8a8a8" stroke-width="0.5"/>
<line x1="99.99" y1="188.85" x2="94.46" y2="192.44" stroke="#a8a8a8" stroke-width="0.5"/>
<circle cx="101.90" cy="223.6" r="16.0" fill="#e6e6e6" stroke="#a2a2a2" stroke-width="1.5"/>
<circle cx="101.90" cy="223.6" r="14.0" fill="url(#gcol3)"/>
<circle cx="99.15" cy="218.21" r="0.51" fill="#c6c6c6"/>
<circle cx="107.68" cy="217.18" r="0.73" fill="#c6c6c6"/>
<circle cx="90.35" cy="219.34" r="0.75" fill="#c6c6c6"/>
<circle cx="97.28" cy="225.68" r="0.75" fill="#c6c6c6"/>
<circle cx="100.66" cy="233.33" r="0.51" fill="#c6c6c6"/>
<circle cx="95.93" cy="227.93" r="0.43" fill="#c6c6c6"/>
<circle cx="104.82" cy="232.80" r="0.62" fill="#c6c6c6"/>
<circle cx="102.54" cy="224.49" r="0.70" fill="#c6c6c6"/>
<circle cx="101.50" cy="222.88" r="0.53" fill="#c6c6c6"/>
<circle cx="109.28" cy="232.49" r="0.80" fill="#c6c6c6"/>
<circle cx="99.94" cy="224.87" r="0.54" fill="#c6c6c6"/>
<circle cx="92.87" cy="220.04" r="0.49" fill="#c6c6c6"/>
<circle cx="93.12" cy="215.69" r="0.50" fill="#c6c6c6"/>
<circle cx="104.54" cy="230.10" r="0.50" fill="#c6c6c6"/>
<circle cx="105.24" cy="214.36" r="0.78" fill="#c6c6c6"/>
<circle cx="113.42" cy="227.10" r="0.78" fill="#c6c6c6"/>
<circle cx="91.54" cy="221.01" r="0.51" fill="#c6c6c6"/>
<circle cx="111.48" cy="225.06" r="0.43" fill="#c6c6c6"/>
<circle cx="89.94" cy="226.21" r="0.43" fill="#c6c6c6"/>
<circle cx="94.40" cy="232.16" r="0.51" fill="#c6c6c6"/>
<circle cx="102.29" cy="236.09" r="0.60" fill="#c6c6c6"/>
<circle cx="98.53" cy="232.46" r="0.67" fill="#c6c6c6"/>
<circle cx="105.59" cy="212.82" r="0.77" fill="#c6c6c6"/>
<circle cx="90.06" cy="224.94" r="0.56" fill="#c6c6c6"/>
<circle cx="110.17" cy="217.51" r="0.40" fill="#c6c6c6"/>
<circle cx="106.59" cy="229.32" r="0.69" fill="#c6c6c6"/>
<circle cx="95.07" cy="223.33" r="0.80" fill="#c6c6c6"/>
<circle cx="95.81" cy="217.36" r="0.52" fill="#c6c6c6"/>
<circle cx="111.50" cy="227.87" r="0.64" fill="#c6c6c6"/>
<circle cx="101.35" cy="229.58" r="0.47" fill="#c6c6c6"/>
<circle cx="106.40" cy="224.97" r="0.52" fill="#c6c6c6"/>
<circle cx="103.99" cy="230.97" r="0.46" fill="#c6c6c6"/>
<circle cx="98.03" cy="227.58" r="0.41" fill="#c6c6c6"/>
<circle cx="99.50" cy="225.35" r="0.44" fill="#c6c6c6"/>
<circle cx="113.24" cy="219.96" r="0.70" fill="#c6c6c6"/>
<circle cx="107.29" cy="224.31" r="0.43" fill="#c6c6c6"/>
<circle cx="93.52" cy="218.35" r="0.53" fill="#c6c6c6"/>
<circle cx="89.48" cy="225.70" r="0.60" fill="#c6c6c6"/>
<circle cx="104.23" cy="211.57" r="0.73" fill="#c6c6c6"/>
<circle cx="109.25" cy="227.05" r="0.77" fill="#c6c6c6"/>
<circle cx="110.33" cy="215.83" r="0.61" fill="#c6c6c6"/>
<circle cx="112.99" cy="224.30" r="0.66" fill="#c6c6c6"/>
<circle cx="104.49" cy="221.98" r="0.65" fill="#c6c6c6"/>
<circle cx="97.07" cy="230.74" r="0.69" fill="#c6c6c6"/>
<circle cx="90.53" cy="229.48" r="0.77" fill="#c6c6c6"/>
<circle cx="109.98" cy="231.32" r="0.70" fill="#c6c6c6"/>
<circle cx="93.72" cy="227.07" r="0.73" fill="#c6c6c6"/>
<circle cx="93.93" cy="223.52" r="0.62" fill="#c6c6c6"/>
<circle cx="113.93" cy="226.89" r="0.61" fill="#c6c6c6"/>
<circle cx="95.29" cy="225.67" r="0.42" fill="#c6c6c6"/>
<circle cx="108.88" cy="226.09" r="0.61" fill="#c6c6c6"/>
<circle cx="98.80" cy="229.40" r="0.65" fill="#c6c6c6"/>
<circle cx="105.27" cy="231.84" r="0.62" fill="#c6c6c6"/>
<circle cx="114.00" cy="227.74" r="0.70" fill="#c6c6c6"/>
<circle cx="105.36" cy="221.00" r="0.47" fill="#c6c6c6"/>
<circle cx="112.16" cy="218.28" r="0.46" fill="#c6c6c6"/>
<circle cx="105.06" cy="226.37" r="0.50" fill="#c6c6c6"/>
<circle cx="101.50" cy="229.18" r="0.42" fill="#c6c6c6"/>
<circle cx="96.77" cy="231.42" r="0.54" fill="#c6c6c6"/>
<circle cx="102.31" cy="225.10" r="0.57" fill="#c6c6c6"/>
<circle cx="89.18" cy="224.48" r="0.50" fill="#c6c6c6"/>
<circle cx="108.64" cy="228.98" r="0.70" fill="#c6c6c6"/>
<circle cx="104.40" cy="221.16" r="0.60" fill="#c6c6c6"/>
<circle cx="113.28" cy="227.77" r="0.79" fill="#c6c6c6"/>
<circle cx="113.45" cy="228.66" r="0.72" fill="#c6c6c6"/>
<circle cx="105.16" cy="230.37" r="0.77" fill="#c6c6c6"/>
<circle cx="107.75" cy="221.91" r="0.52" fill="#c6c6c6"/>
<circle cx="93.10" cy="228.73" r="0.41" fill="#c6c6c6"/>
<circle cx="98.22" cy="215.53" r="0.60" fill="#c6c6c6"/>
<circle cx="110.80" cy="229.12" r="0.61" fill="#c6c6c6"/>
<circle cx="96.75" cy="235.23" r="0.79" fill="#c6c6c6"/>
<circle cx="89.85" cy="218.83" r="0.55" fill="#c6c6c6"/>
<circle cx="106.32" cy="213.66" r="0.74" fill="#c6c6c6"/>
<circle cx="111.84" cy="220.09" r="0.48" fill="#c6c6c6"/>
<circle cx="104.76" cy="234.62" r="0.47" fill="#c6c6c6"/>
<circle cx="99.59" cy="222.32" r="0.51" fill="#c6c6c6"/>
<circle cx="101.49" cy="231.21" r="0.65" fill="#c6c6c6"/>
<circle cx="101.49" cy="224.69" r="0.43" fill="#c6c6c6"/>
<circle cx="104.94" cy="234.19" r="0.75" fill="#c6c6c6"/>
<circle cx="102.62" cy="217.83" r="0.43" fill="#c6c6c6"/>
<circle cx="101.11" cy="231.52" r="0.65" fill="#c6c6c6"/>
<circle cx="101.03" cy="228.27" r="0.45" fill="#c6c6c6"/>
<circle cx="109.61" cy="228.84" r="0.57" fill="#c6c6c6"/>
<circle cx="97.45" cy="223.81" r="0.45" fill="#c6c6c6"/>
<circle cx="110.97" cy="214.73" r="0.43" fill="#c6c6c6"/>
<circle cx="98.22" cy="218.64" r="0.59" fill="#c6c6c6"/>
<circle cx="104.55" cy="231.53" r="0.49" fill="#c6c6c6"/>
<circle cx="96.87" cy="217.54" r="0.53" fill="#c6c6c6"/>
<circle cx="92.80" cy="218.27" r="0.51" fill="#c6c6c6"/>
<circle cx="101.13" cy="222.36" r="0.64" fill="#c6c6c6"/>
<circle cx="101.32" cy="223.45" r="2.3" fill="#7c7c7c" opacity="0.75"/>
<circle cx="92.61" cy="217.43" r="0.40" fill="#a4a4a4"/>
<circle cx="99.94" cy="234.52" r="0.44" fill="#8a8a8a"/>
<circle cx="108.62" cy="228.44" r="0.32" fill="#9a9a9a"/>
<circle cx="96.93" cy="229.34" r="0.55" fill="#a4a4a4"/>
<circle cx="104.96" cy="216.60" r="0.47" fill="#8a8a8a"/>
<circle cx="103.96" cy="226.66" r="0.42" fill="#a4a4a4"/>
<circle cx="100.85" cy="222.12" r="0.54" fill="#8a8a8a"/>
<circle cx="108.56" cy="222.61" r="0.46" fill="#9a9a9a"/>
<circle cx="101.81" cy="223.30" r="0.32" fill="#8a8a8a"/>
<circle cx="94.13" cy="225.48" r="0.43" fill="#9a9a9a"/>
<circle cx="96.98" cy="220.72" r="0.39" fill="#909090"/>
<circle cx="107.33" cy="230.42" r="0.30" fill="#8a8a8a"/>
<circle cx="108.47" cy="221.84" r="0.47" fill="#a4a4a4"/>
<circle cx="99.81" cy="224.53" r="0.30" fill="#9a9a9a"/>
<circle cx="106.72" cy="224.34" r="0.40" fill="#a4a4a4"/>
<circle cx="91.26" cy="219.30" r="0.38" fill="#8a8a8a"/>
<circle cx="100.04" cy="223.51" r="0.32" fill="#8a8a8a"/>
<circle cx="102.22" cy="227.77" r="0.37" fill="#a4a4a4"/>
<circle cx="103.08" cy="216.86" r="0.45" fill="#9a9a9a"/>
<circle cx="93.16" cy="225.48" r="0.44" fill="#9a9a9a"/>
<circle cx="101.34" cy="223.75" r="0.50" fill="#8a8a8a"/>
<circle cx="96.55" cy="223.47" r="0.40" fill="#9a9a9a"/>
<circle cx="96.71" cy="219.19" r="0.40" fill="#8a8a8a"/>
<circle cx="108.94" cy="224.07" r="0.34" fill="#909090"/>
<circle cx="91.88" cy="221.62" r="0.40" fill="#8a8a8a"/>
<circle cx="94.75" cy="223.90" r="0.40" fill="#8a8a8a"/>
<circle cx="100.55" cy="227.80" r="0.37" fill="#9a9a9a"/>
<circle cx="105.90" cy="226.98" r="0.35" fill="#909090"/>
<circle cx="104.83" cy="223.48" r="0.44" fill="#9a9a9a"/>
<circle cx="96.36" cy="223.57" r="0.37" fill="#a4a4a4"/>
<circle cx="98.80" cy="221.36" r="0.39" fill="#9a9a9a"/>
<circle cx="96.24" cy="226.29" r="0.38" fill="#909090"/>
<circle cx="102.58" cy="224.21" r="0.51" fill="#a4a4a4"/>
<circle cx="109.61" cy="226.75" r="0.50" fill="#909090"/>
<circle cx="101.23" cy="222.29" r="0.31" fill="#a4a4a4"/>
<circle cx="96.97" cy="229.59" r="0.48" fill="#909090"/>
<circle cx="100.17" cy="225.36" r="0.30" fill="#8a8a8a"/>
<circle cx="96.72" cy="220.16" r="0.51" fill="#a4a4a4"/>
<circle cx="102.29" cy="225.11" r="0.38" fill="#8a8a8a"/>
<circle cx="90.71" cy="223.77" r="0.51" fill="#8a8a8a"/>
<circle cx="102.16" cy="224.71" r="0.50" fill="#a4a4a4"/>
<circle cx="105.57" cy="222.25" r="0.37" fill="#8a8a8a"/>
<circle cx="99.69" cy="218.91" r="0.40" fill="#8a8a8a"/>
<circle cx="101.90" cy="223.60" r="0.50" fill="#9a9a9a"/>
<circle cx="102.31" cy="221.92" r="0.31" fill="#a4a4a4"/>
<circle cx="102.67" cy="214.65" r="0.53" fill="#9a9a9a"/>
<circle cx="100.10" cy="221.46" r="0.45" fill="#8a8a8a"/>
<circle cx="101.07" cy="221.75" r="0.40" fill="#909090"/>
<circle cx="98.39" cy="216.18" r="0.34" fill="#8a8a8a"/>
<circle cx="103.16" cy="224.33" r="0.47" fill="#909090"/>
<circle cx="102.97" cy="220.38" r="0.38" fill="#909090"/>
<circle cx="101.61" cy="220.61" r="0.47" fill="#a4a4a4"/>
<circle cx="100.52" cy="223.17" r="0.48" fill="#8a8a8a"/>
<circle cx="99.07" cy="225.73" r="0.53" fill="#8a8a8a"/>
<circle cx="104.10" cy="232.44" r="0.38" fill="#909090"/>
<circle cx="104.25" cy="226.44" r="0.42" fill="#a4a4a4"/>
<circle cx="103.14" cy="223.85" r="0.53" fill="#909090"/>
<circle cx="102.60" cy="225.78" r="0.47" fill="#909090"/>
<circle cx="96.18" cy="228.46" r="0.33" fill="#909090"/>
<circle cx="101.69" cy="219.14" r="0.30" fill="#9a9a9a"/>
<circle cx="105.33" cy="216.68" r="0.39" fill="#a4a4a4"/>
<circle cx="102.87" cy="220.78" r="0.39" fill="#909090"/>
<circle cx="96.07" cy="220.21" r="0.48" fill="#909090"/>
<circle cx="96.68" cy="227.58" r="0.39" fill="#a4a4a4"/>
<circle cx="98.35" cy="225.83" r="0.36" fill="#8a8a8a"/>
<circle cx="104.63" cy="224.76" r="0.41" fill="#9a9a9a"/>
<circle cx="97.59" cy="219.67" r="0.54" fill="#9a9a9a"/>
<circle cx="108.19" cy="219.59" r="0.35" fill="#9a9a9a"/>
<circle cx="100.35" cy="222.14" r="0.43" fill="#a4a4a4"/>
<circle cx="105.57" cy="228.67" r="0.44" fill="#9a9a9a"/>
<circle cx="101.77" cy="223.82" r="0.41" fill="#9a9a9a"/>
<circle cx="105.39" cy="222.95" r="0.50" fill="#9a9a9a"/>
<circle cx="102.78" cy="227.98" r="0.52" fill="#9a9a9a"/>
<circle cx="101.73" cy="221.37" r="0.45" fill="#9a9a9a"/>
<circle cx="104.59" cy="221.63" r="0.47" fill="#a4a4a4"/>
<circle cx="95.20" cy="231.29" r="0.45" fill="#a4a4a4"/>
<circle cx="103.47" cy="220.77" r="0.33" fill="#a4a4a4"/>
<circle cx="97.76" cy="228.74" r="0.37" fill="#a4a4a4"/>
<circle cx="90.34" cy="218.96" r="0.42" fill="#a4a4a4"/>
<circle cx="101.73" cy="224.77" r="0.52" fill="#9a9a9a"/>
<circle cx="104.73" cy="228.07" r="0.45" fill="#9a9a9a"/>
<circle cx="101.09" cy="223.37" r="0.38" fill="#a4a4a4"/>
<circle cx="94.48" cy="227.26" r="0.46" fill="#a4a4a4"/>
<circle cx="92.10" cy="220.92" r="0.48" fill="#a4a4a4"/>
<circle cx="103.04" cy="223.18" r="0.44" fill="#a4a4a4"/>
<circle cx="100.83" cy="225.09" r="0.44" fill="#8a8a8a"/>
<circle cx="101.89" cy="223.44" r="0.35" fill="#8a8a8a"/>
<circle cx="101.59" cy="223.94" r="0.52" fill="#a4a4a4"/>
<circle cx="103.07" cy="224.08" r="0.40" fill="#8a8a8a"/>
<circle cx="103.26" cy="225.31" r="0.41" fill="#8a8a8a"/>
<circle cx="98.09" cy="215.58" r="0.53" fill="#909090"/>
<circle cx="105.78" cy="219.94" r="0.40" fill="#8a8a8a"/>
<line x1="99.75" y1="223.79" x2="93.50" y2="224.35" stroke="#a8a8a8" stroke-width="0.5"/>
<line x1="98.21" y1="222.20" x2="93.66" y2="220.48" stroke="#a8a8a8" stroke-width="0.5"/>
<line x1="103.62" y1="225.55" x2="106.98" y2="229.36" stroke="#a8a8a8" stroke-width="0.5"/>
<line x1="100.75" y1="219.90" x2="98.67" y2="213.21" stroke="#a8a8a8" stroke-width="0.5"/>
<line x1="105.56" y1="222.41" x2="111.69" y2="220.42" stroke="#a8a8a8" stroke-width="0.5"/>
<line x1="103.77" y1="222.79" x2="109.65" y2="220.24" stroke="#a8a8a8" stroke-width="0.5"/>
<line x1="99.06" y1="221.78" x2="94.27" y2="218.71" stroke="#a8a8a8" stroke-width="0.5"/>
<line x1="98.97" y1="221.08" x2="97.03" y2="219.40" stroke="#a8a8a8" stroke-width="0.5"/>
<line x1="98.01" y1="223.13" x2="95.79" y2="222.86" stroke="#a8a8a8" stroke-width="0.5"/>
<rect x="122.60" y="171.00" width="35.10" height="70.30" fill="#e4e4e4" />
<circle cx="139.90" cy="188.3" r="15.8" fill="#e9e9e9" stroke="#a8a8a8" stroke-width="1.4"/>
<circle cx="149.01" cy="196.01" r="0.64" fill="#3c3c3c"/>
<circle cx="143.17" cy="192.75" r="0.45" fill="#3c3c3c"/>
<circle cx="150.28" cy="193.02" r="0.83" fill="#4a4a4a"/>
<circle cx="133.70" cy="192.37" r="0.63" fill="#6a6a6a"/>
<circle cx="144.96" cy="184.55" r="0.71" fill="#3c3c3c"/>
<circle cx="132.59" cy="187.09" r="0.65" fill="#6a6a6a"/>
<circle cx="141.08" cy="200.26" r="0.54" fill="#555"/>
<circle cx="141.96" cy="196.65" r="0.80" fill="#555"/>
<circle cx="136.79" cy="193.72" r="0.72" fill="#6a6a6a"/>
<circle cx="139.90" cy="224.1" r="15.8" fill="#e9e9e9" stroke="#a8a8a8" stroke-width="1.4"/>
<circle cx="131.24" cy="219.74" r="0.53" fill="#3c3c3c"/>
<circle cx="140.68" cy="231.08" r="0.78" fill="#6a6a6a"/>
<circle cx="140.57" cy="226.38" r="0.69" fill="#555"/>
<circle cx="149.75" cy="229.40" r="0.65" fill="#555"/>
<circle cx="149.08" cy="226.76" r="0.62" fill="#555"/>
<circle cx="132.32" cy="233.68" r="0.90" fill="#4a4a4a"/>
<circle cx="130.74" cy="229.20" r="0.60" fill="#555"/>
<circle cx="141.88" cy="216.47" r="0.70" fill="#6a6a6a"/>
<circle cx="143.04" cy="222.95" r="0.47" fill="#3c3c3c"/>
<circle cx="152.14" cy="226.67" r="0.86" fill="#4a4a4a"/>
<circle cx="143.50" cy="228.65" r="0.88" fill="#4a4a4a"/>
<circle cx="146.70" cy="220.98" r="0.51" fill="#555"/>
<circle cx="137.15" cy="211.96" r="0.56" fill="#555"/>
<circle cx="138.04" cy="218.15" r="0.62" fill="#4a4a4a"/>
<circle cx="138.11" cy="211.93" r="0.87" fill="#555"/>
<circle cx="144.85" cy="226.49" r="0.75" fill="#6a6a6a"/>
<circle cx="145.09" cy="229.17" r="0.57" fill="#3c3c3c"/>
<circle cx="128.45" cy="222.51" r="0.79" fill="#4a4a4a"/>
<circle cx="127.62" cy="222.02" r="0.74" fill="#3c3c3c"/>
<circle cx="152.12" cy="225.37" r="0.52" fill="#555"/>
<circle cx="135.23" cy="232.54" r="0.67" fill="#6a6a6a"/>
<circle cx="147.65" cy="217.95" r="0.72" fill="#6a6a6a"/>
<circle cx="144.85" cy="216.91" r="0.52" fill="#555"/>
<circle cx="129.55" cy="226.13" r="0.79" fill="#4a4a4a"/>
<circle cx="137.54" cy="225.81" r="0.47" fill="#555"/>
<circle cx="130.46" cy="230.85" r="0.46" fill="#3c3c3c"/>
<circle cx="128.75" cy="229.86" r="0.66" fill="#3c3c3c"/>
<circle cx="140.55" cy="225.54" r="0.89" fill="#6a6a6a"/>
<circle cx="133.80" cy="234.18" r="0.76" fill="#6a6a6a"/>
<circle cx="139.85" cy="235.13" r="0.61" fill="#555"/>
<rect x="160.00" y="171.00" width="35.40" height="70.30" fill="#e1e1e1" />
<circle cx="178.40" cy="188.3" r="16.6" fill="#e8e8e8" stroke="#b4b4b4" stroke-width="1.5"/>
<circle cx="178.40" cy="188.3" r="14.600000000000001" fill="none" stroke="#d9d9d9" stroke-width="0.7"/>
<circle cx="178.40" cy="222.4" r="16.6" fill="#e8e8e8" stroke="#b4b4b4" stroke-width="1.5"/>
<circle cx="178.40" cy="222.4" r="14.600000000000001" fill="none" stroke="#d9d9d9" stroke-width="0.7"/>
<rect x="197.70" y="171.00" width="35.10" height="70.30" fill="#e0e0e0" />
<circle cx="215.00" cy="188.3" r="16.5" fill="#e7e7e7" stroke="#b8b8b8" stroke-width="1.5"/>
<circle cx="213.80" cy="189.10000000000002" r="14.1" fill="#e5e5e5" stroke="#cccccc" stroke-width="0.8"/>
<circle cx="215.00" cy="224.6" r="16.5" fill="#e7e7e7" stroke="#b8b8b8" stroke-width="1.5"/>
<circle cx="213.80" cy="225.4" r="14.1" fill="#e5e5e5" stroke="#cccccc" stroke-width="0.8"/>
<ellipse cx="162.4" cy="190" rx="0.8" ry="1.8" fill="#777"/>
<ellipse cx="194.4" cy="189.5" rx="0.7" ry="1.2" fill="#8a8a8a"/>
<ellipse cx="178.3" cy="205.4" rx="1.6" ry="0.8" fill="#777"/>
<ellipse cx="194.2" cy="221" rx="0.7" ry="1.2" fill="#8a8a8a"/>
</g>
<text x="269.00" y="148.40" font-size="11.8" text-anchor="start" fill="#000" stroke="#000" stroke-width="0.25" font-weight="bold" >D</text>
<text x="313.80" y="155.20" font-size="10.2" text-anchor="start" fill="#1a1a1a" stroke="#1a1a1a" stroke-width="0.25" textLength="81.60" lengthAdjust="spacingAndGlyphs" >IL15RA KD by shRNAs</text>
<line x1="320.40" y1="169.80" x2="320.40" y2="207.50" stroke="#1a1a1a" stroke-width="0.7" />
<line x1="319.60" y1="207.50" x2="400.50" y2="207.50" stroke="#1a1a1a" stroke-width="0.7" />
<line x1="318.00" y1="207.50" x2="320.40" y2="207.50" stroke="#1a1a1a" stroke-width="0.7" />
<text x="317.00" y="209.90" font-size="6.6" text-anchor="end" fill="#1a1a1a" stroke="#1a1a1a" stroke-width="0.25" textLength="3.30" lengthAdjust="spacingAndGlyphs" >0</text>
<line x1="318.00" y1="192.50" x2="320.40" y2="192.50" stroke="#1a1a1a" stroke-width="0.7" />
<text x="317.00" y="194.90" font-size="6.6" text-anchor="end" fill="#1a1a1a" stroke="#1a1a1a" stroke-width="0.25" textLength="6.40" lengthAdjust="spacingAndGlyphs" >50</text>
<line x1="318.00" y1="177.50" x2="320.40" y2="177.50" stroke="#1a1a1a" stroke-width="0.7" />
<text x="317.00" y="179.90" font-size="6.6" text-anchor="end" fill="#1a1a1a" stroke="#1a1a1a" stroke-width="0.25" textLength="9.60" lengthAdjust="spacingAndGlyphs" >100</text>
<text x="305.20" y="189.30" font-size="6.6" text-anchor="middle" fill="#1a1a1a" stroke="#1a1a1a" stroke-width="0.25" transform="rotate(-90 305.20 189.30)" textLength="51.50" lengthAdjust="spacingAndGlyphs" >% of Nontargeting</text>
<rect x="324.00" y="177.50" width="13.20" height="30.00" fill="#0a0a0a" />
<line x1="330.60" y1="177.50" x2="330.60" y2="175.85" stroke="#444" stroke-width="0.7" />
<line x1="327.40" y1="175.85" x2="333.80" y2="175.85" stroke="#444" stroke-width="0.8" />
<line x1="330.60" y1="207.50" x2="330.60" y2="209.30" stroke="#1a1a1a" stroke-width="0.6" />
<rect x="344.20" y="181.10" width="13.00" height="26.40" fill="#9c9c9c" />
<line x1="350.70" y1="181.10" x2="350.70" y2="177.50" stroke="#444" stroke-width="0.7" />
<line x1="347.50" y1="177.50" x2="353.90" y2="177.50" stroke="#444" stroke-width="0.8" />
<line x1="350.70" y1="207.50" x2="350.70" y2="209.30" stroke="#1a1a1a" stroke-width="0.6" />
<rect x="364.20" y="196.10" width="12.80" height="11.40" fill="#777777" />
<line x1="370.60" y1="196.10" x2="370.60" y2="191.90" stroke="#444" stroke-width="0.7" />
<line x1="367.40" y1="191.90" x2="373.80" y2="191.90" stroke="#444" stroke-width="0.8" />
<line x1="370.60" y1="207.50" x2="370.60" y2="209.30" stroke="#1a1a1a" stroke-width="0.6" />
<rect x="383.90" y="197.00" width="13.00" height="10.50" fill="#dcdcdc" />
<line x1="390.40" y1="197.00" x2="390.40" y2="194.30" stroke="#444" stroke-width="0.7" />
<line x1="387.20" y1="194.30" x2="393.60" y2="194.30" stroke="#444" stroke-width="0.8" />
<line x1="390.40" y1="207.50" x2="390.40" y2="209.30" stroke="#1a1a1a" stroke-width="0.6" />
<text x="331.20" y="215.40" font-size="6.2" text-anchor="middle" fill="#1a1a1a" stroke="#1a1a1a" stroke-width="0.25" textLength="10.60" lengthAdjust="spacingAndGlyphs" >Non-</text>
<text x="331.20" y="222.20" font-size="6.2" text-anchor="middle" fill="#1a1a1a" stroke="#1a1a1a" stroke-width="0.25" textLength="19.00" lengthAdjust="spacingAndGlyphs" >targeting</text>
<text x="350.70" y="215.40" font-size="6.2" text-anchor="middle" fill="#1a1a1a" stroke="#1a1a1a" stroke-width="0.25" textLength="12.20" lengthAdjust="spacingAndGlyphs" >IL15R</text>
<text x="350.70" y="222.20" font-size="6.2" text-anchor="middle" fill="#1a1a1a" stroke="#1a1a1a" stroke-width="0.25" textLength="8.20" lengthAdjust="spacingAndGlyphs" >sh1</text>
<text x="370.60" y="215.40" font-size="6.2" text-anchor="middle" fill="#1a1a1a" stroke="#1a1a1a" stroke-width="0.25" textLength="12.20" lengthAdjust="spacingAndGlyphs" >IL15R</text>
<text x="370.60" y="222.20" font-size="6.2" text-anchor="middle" fill="#1a1a1a" stroke="#1a1a1a" stroke-width="0.25" textLength="8.20" lengthAdjust="spacingAndGlyphs" >sh2</text>
<text x="390.40" y="215.40" font-size="6.2" text-anchor="middle" fill="#1a1a1a" stroke="#1a1a1a" stroke-width="0.25" textLength="12.20" lengthAdjust="spacingAndGlyphs" >IL15R</text>
<text x="390.40" y="222.20" font-size="6.2" text-anchor="middle" fill="#1a1a1a" stroke="#1a1a1a" stroke-width="0.25" textLength="8.20" lengthAdjust="spacingAndGlyphs" >sh3</text>
<rect x="320.20" y="224.60" width="80.60" height="23.70" fill="#f6f6f6" stroke="#333" stroke-width="0.7" />
<line x1="320.20" y1="236.70" x2="400.80" y2="236.70" stroke="#555" stroke-width="0.5" />
<text x="319.20" y="233.50" font-size="6.6" text-anchor="end" fill="#1a1a1a" stroke="#1a1a1a" stroke-width="0.25" textLength="20.00" lengthAdjust="spacingAndGlyphs" >IL15RA</text>
<text x="318.60" y="246.20" font-size="6.4" text-anchor="end" fill="#1a1a1a" stroke="#1a1a1a" stroke-width="0.25" textLength="12.20" lengthAdjust="spacingAndGlyphs" >Actin</text>
<g filter="url(#b3)">
<path d="M324 231 Q328 230.2 332 231.3 T341 231.5 Q348 230.9 352 231 L357 231.5" fill="none" stroke="#111" stroke-width="3.3" stroke-linecap="round"/>
<path d="M361.5 231.2 L378 230.9" fill="none" stroke="#bcbcbc" stroke-width="1.9" stroke-linecap="round"/>
<path d="M381 231.8 Q390 231.2 399 231.8" fill="none" stroke="#7c7c7c" stroke-width="2.5" stroke-linecap="round"/>
<path d="M324.2 244.2 Q331 244.8 340 244.2 T358 243.8 Q361 242.5 370 242.5 T397.4 242.9" fill="none" stroke="#050505" stroke-width="5" stroke-linecap="round"/>
</g>
<text x="316.50" y="409.00" font-size="11.8" text-anchor="start" fill="#000" stroke="#000" stroke-width="0.25" font-weight="bold" >I</text>
<text x="348.60" y="409.00" font-size="10.5" text-anchor="start" fill="#1a1a1a" stroke="#1a1a1a" stroke-width="0.25" textLength="96.00" lengthAdjust="spacingAndGlyphs" >IL15RA KD by siRNAs</text>
<line x1="363.70" y1="425.80" x2="363.70" y2="467.90" stroke="#1a1a1a" stroke-width="0.7" />
<line x1="363.30" y1="467.90" x2="445.50" y2="467.90" stroke="#1a1a1a" stroke-width="0.7" />
<line x1="361.40" y1="467.90" x2="363.70" y2="467.90" stroke="#1a1a1a" stroke-width="0.7" />
<text x="360.40" y="470.50" font-size="7.2" text-anchor="end" fill="#1a1a1a" stroke="#1a1a1a" stroke-width="0.25" textLength="3.90" lengthAdjust="spacingAndGlyphs" >0</text>
<line x1="361.40" y1="451.15" x2="363.70" y2="451.15" stroke="#1a1a1a" stroke-width="0.7" />
<text x="360.40" y="453.75" font-size="7.2" text-anchor="end" fill="#1a1a1a" stroke="#1a1a1a" stroke-width="0.25" textLength="7.30" lengthAdjust="spacingAndGlyphs" >50</text>
<line x1="361.40" y1="434.40" x2="363.70" y2="434.40" stroke="#1a1a1a" stroke-width="0.7" />
<text x="360.40" y="437.00" font-size="7.2" text-anchor="end" fill="#1a1a1a" stroke="#1a1a1a" stroke-width="0.25" textLength="10.80" lengthAdjust="spacingAndGlyphs" >100</text>
<text x="345.60" y="448.40" font-size="7.0" text-anchor="middle" fill="#1a1a1a" stroke="#1a1a1a" stroke-width="0.25" transform="rotate(-90 345.60 448.40)" textLength="56.00" lengthAdjust="spacingAndGlyphs" >% of Nontargeting</text>
<rect x="367.70" y="434.40" width="17.80" height="33.50" fill="#0a0a0a" />
<line x1="376.60" y1="434.40" x2="376.60" y2="432.05" stroke="#444" stroke-width="0.6" />
<line x1="372.20" y1="432.05" x2="381.00" y2="432.05" stroke="#444" stroke-width="0.6" />
<line x1="376.60" y1="467.90" x2="376.60" y2="469.80" stroke="#1a1a1a" stroke-width="0.6" />
<rect x="395.40" y="456.51" width="17.60" height="11.39" fill="#a8a8a8" />
<line x1="404.20" y1="456.51" x2="404.20" y2="454.00" stroke="#444" stroke-width="0.6" />
<line x1="399.80" y1="454.00" x2="408.60" y2="454.00" stroke="#444" stroke-width="0.6" />
<line x1="404.20" y1="467.90" x2="404.20" y2="469.80" stroke="#1a1a1a" stroke-width="0.6" />
<rect x="423.00" y="461.20" width="17.30" height="6.70" fill="#6e6e6e" />
<line x1="431.65" y1="461.20" x2="431.65" y2="457.85" stroke="#444" stroke-width="0.6" />
<line x1="427.25" y1="457.85" x2="436.05" y2="457.85" stroke="#444" stroke-width="0.6" />
<line x1="431.65" y1="467.90" x2="431.65" y2="469.80" stroke="#1a1a1a" stroke-width="0.6" />
<text x="404.20" y="452.60" font-size="6.5" text-anchor="middle" fill="#1a1a1a" >***</text>
<text x="431.70" y="452.60" font-size="6.5" text-anchor="middle" fill="#1a1a1a" >***</text>
<text x="378.80" y="478.00" font-size="6.2" text-anchor="middle" fill="#1a1a1a" stroke="#1a1a1a" stroke-width="0.25" textLength="12.60" lengthAdjust="spacingAndGlyphs" >Non-</text>
<text x="378.50" y="484.70" font-size="6.2" text-anchor="middle" fill="#1a1a1a" stroke="#1a1a1a" stroke-width="0.25" textLength="21.50" lengthAdjust="spacingAndGlyphs" >targeting</text>
<text x="403.60" y="478.00" font-size="6.2" text-anchor="middle" fill="#1a1a1a" stroke="#1a1a1a" stroke-width="0.25" textLength="21.00" lengthAdjust="spacingAndGlyphs" >siRNA#0</text>
<text x="431.50" y="478.00" font-size="6.2" text-anchor="middle" fill="#1a1a1a" stroke="#1a1a1a" stroke-width="0.25" textLength="21.20" lengthAdjust="spacingAndGlyphs" >siRNA#2</text>
<rect x="367.80" y="488.80" width="76.80" height="19.00" fill="#e2e2e2" stroke="#3a3a3a" stroke-width="0.8" />
<rect x="367.80" y="509.60" width="76.80" height="18.00" fill="#e0e0e0" stroke="#3a3a3a" stroke-width="0.8" />
<line x1="395.50" y1="488.80" x2="395.50" y2="527.60" stroke="#3a3a3a" stroke-width="0.8" />
<text x="365.40" y="503.40" font-size="6.6" text-anchor="end" fill="#1a1a1a" stroke="#1a1a1a" stroke-width="0.25" textLength="20.00" lengthAdjust="spacingAndGlyphs" >IL15RA</text>
<text x="365.40" y="520.20" font-size="6.6" text-anchor="end" fill="#1a1a1a" stroke="#1a1a1a" stroke-width="0.25" textLength="13.80" lengthAdjust="spacingAndGlyphs" >Actin</text>
<g filter="url(#b2)">
<path d="M375.5 500.6 Q382 499.4 389 500.4" fill="none" stroke="#161616" stroke-width="4.2" stroke-linecap="round"/>
<path d="M399.5 501.2 Q404 500.6 408.5 501.2" fill="none" stroke="#4a4a4a" stroke-width="3.4" stroke-linecap="round"/>
<path d="M423 498.6 Q429 497.8 436 498.8" fill="none" stroke="#a2a2a2" stroke-width="3.4" stroke-linecap="round"/>
<path d="M372.5 519.2 Q381 520 390 519" fill="none" stroke="#080808" stroke-width="6" stroke-linecap="round"/>
<path d="M400 516.8 Q408 517.4 417 516.4 T437.5 516.2" fill="none" stroke="#0c0c0c" stroke-width="5.8" stroke-linecap="round"/>
</g>
<text x="14.40" y="547.40" font-size="11.8" text-anchor="start" fill="#000" stroke="#000" stroke-width="0.25" font-weight="bold" >J</text>
<text x="64.50" y="543.40" font-size="9.6" text-anchor="start" fill="#1a1a1a" stroke="#1a1a1a" stroke-width="0.25" textLength="104.20" lengthAdjust="spacing" >Caspase−3/7 activation</text>
<line x1="66.40" y1="555.00" x2="66.40" y2="637.00" stroke="#1a1a1a" stroke-width="0.8" />
<line x1="66.00" y1="637.00" x2="172.50" y2="637.00" stroke="#1a1a1a" stroke-width="0.8" />
<line x1="63.40" y1="637.00" x2="66.40" y2="637.00" stroke="#1a1a1a" stroke-width="0.8" />
<text x="62.20" y="640.20" font-size="9.3" text-anchor="end" fill="#1a1a1a" stroke="#1a1a1a" stroke-width="0.25" >0</text>
<line x1="63.40" y1="609.60" x2="66.40" y2="609.60" stroke="#1a1a1a" stroke-width="0.8" />
<text x="62.20" y="612.80" font-size="9.3" text-anchor="end" fill="#1a1a1a" stroke="#1a1a1a" stroke-width="0.25" >2</text>
<line x1="63.40" y1="582.20" x2="66.40" y2="582.20" stroke="#1a1a1a" stroke-width="0.8" />
<text x="62.20" y="585.40" font-size="9.3" text-anchor="end" fill="#1a1a1a" stroke="#1a1a1a" stroke-width="0.25" >4</text>
<line x1="63.40" y1="554.80" x2="66.40" y2="554.80" stroke="#1a1a1a" stroke-width="0.8" />
<text x="62.20" y="558.00" font-size="9.3" text-anchor="end" fill="#1a1a1a" stroke="#1a1a1a" stroke-width="0.25" >6</text>
<text x="52.20" y="592.00" font-size="8.5" text-anchor="middle" fill="#1a1a1a" stroke="#1a1a1a" stroke-width="0.25" transform="rotate(-90 52.20 592.00)" >Fold of control</text>
<rect x="72.50" y="623.71" width="7.50" height="13.29" fill="#0a0a0a" />
<line x1="76.25" y1="623.71" x2="76.25" y2="622.07" stroke="#444" stroke-width="0.6" />
<line x1="74.05" y1="622.07" x2="78.45" y2="622.07" stroke="#444" stroke-width="0.6" />
<rect x="83.75" y="623.71" width="7.50" height="13.29" fill="#a6a6a6" />
<line x1="87.50" y1="623.71" x2="87.50" y2="621.25" stroke="#444" stroke-width="0.6" />
<line x1="85.30" y1="621.25" x2="89.70" y2="621.25" stroke="#444" stroke-width="0.6" />
<rect x="95.00" y="598.78" width="8.00" height="38.22" fill="#757575" />
<line x1="99.00" y1="598.78" x2="99.00" y2="593.02" stroke="#444" stroke-width="0.6" />
<line x1="96.80" y1="593.02" x2="101.20" y2="593.02" stroke="#444" stroke-width="0.6" />
<rect x="106.50" y="604.26" width="7.90" height="32.74" fill="#dedede" />
<line x1="110.45" y1="604.26" x2="110.45" y2="591.11" stroke="#444" stroke-width="0.6" />
<line x1="108.25" y1="591.11" x2="112.65" y2="591.11" stroke="#444" stroke-width="0.6" />
<rect x="125.50" y="625.08" width="7.50" height="11.92" fill="#0a0a0a" />
<line x1="129.25" y1="625.08" x2="129.25" y2="622.07" stroke="#444" stroke-width="0.6" />
<line x1="127.05" y1="622.07" x2="131.45" y2="622.07" stroke="#444" stroke-width="0.6" />
<rect x="136.75" y="598.78" width="7.50" height="38.22" fill="#a6a6a6" />
<line x1="140.50" y1="598.78" x2="140.50" y2="596.17" stroke="#444" stroke-width="0.6" />
<line x1="138.30" y1="596.17" x2="142.70" y2="596.17" stroke="#444" stroke-width="0.6" />
<rect x="148.00" y="563.71" width="7.75" height="73.29" fill="#757575" />
<line x1="151.88" y1="563.71" x2="151.88" y2="562.88" stroke="#444" stroke-width="0.6" />
<line x1="149.68" y1="562.88" x2="154.07" y2="562.88" stroke="#444" stroke-width="0.6" />
<rect x="159.50" y="568.23" width="7.50" height="68.77" fill="#dedede" />
<line x1="163.25" y1="568.23" x2="163.25" y2="566.45" stroke="#444" stroke-width="0.6" />
<line x1="161.05" y1="566.45" x2="165.45" y2="566.45" stroke="#444" stroke-width="0.6" />
<path d="M85.6 610.5 V576.6 H109.9 V581.6 M97.8 576.6 V581.6" fill="none" stroke="#555" stroke-width="0.7"/>
<path d="M139.2 589.6 V550.6 H165.1 V555.6 M151.8 550.6 V555.6" fill="none" stroke="#555" stroke-width="0.7"/>
<text x="98.70" y="589.90" font-size="6.8" text-anchor="middle" fill="#1a1a1a" >***</text>
<text x="110.50" y="589.90" font-size="6.8" text-anchor="middle" fill="#1a1a1a" >**</text>
<text x="151.80" y="562.90" font-size="6.8" text-anchor="middle" fill="#1a1a1a" >***</text>
<text x="163.90" y="562.90" font-size="6.8" text-anchor="middle" fill="#1a1a1a" >***</text>
<text x="93.90" y="647.40" font-size="9" text-anchor="middle" fill="#1a1a1a" stroke="#1a1a1a" stroke-width="0.25" >MDA-MB-231</text>
<line x1="93.75" y1="637.00" x2="93.75" y2="639.60" stroke="#1a1a1a" stroke-width="0.8" />
<line x1="146.25" y1="637.00" x2="146.25" y2="639.60" stroke="#1a1a1a" stroke-width="0.8" />
<text x="146.30" y="647.40" font-size="9" text-anchor="middle" fill="#1a1a1a" stroke="#1a1a1a" stroke-width="0.25" >HCC143</text>
<rect x="178.75" y="570.75" width="12.50" height="3.00" fill="#0a0a0a" />
<text x="198.75" y="574.55" font-size="6.6" text-anchor="start" fill="#1a1a1a" stroke="#1a1a1a" stroke-width="0.15" >Untreated</text>
<rect x="178.75" y="584.75" width="12.50" height="3.00" fill="#a6a6a6" />
<text x="198.75" y="588.55" font-size="6.6" text-anchor="start" fill="#1a1a1a" stroke="#1a1a1a" stroke-width="0.15" >Nontargeting</text>
<rect x="178.75" y="599.00" width="12.50" height="3.00" fill="#757575" />
<text x="198.75" y="602.80" font-size="6.6" text-anchor="start" fill="#1a1a1a" stroke="#1a1a1a" stroke-width="0.15" >IL15R sh2</text>
<rect x="178.75" y="612.75" width="12.50" height="3.00" fill="#dedede" />
<text x="198.75" y="616.55" font-size="6.6" text-anchor="start" fill="#1a1a1a" stroke="#1a1a1a" stroke-width="0.15" >IL15R sh3</text>
<text x="288.60" y="548.20" font-size="11.8" text-anchor="start" fill="#000" stroke="#000" stroke-width="0.25" font-weight="bold" >K</text>
<text x="360.00" y="543.40" font-size="9.6" text-anchor="start" fill="#1a1a1a" stroke="#1a1a1a" stroke-width="0.25" textLength="105.00" lengthAdjust="spacing" >Caspase−3/7 activation</text>
<line x1="339.50" y1="551.75" x2="339.50" y2="633.75" stroke="#1a1a1a" stroke-width="0.8" />
<line x1="339.10" y1="633.75" x2="492.20" y2="633.75" stroke="#1a1a1a" stroke-width="0.8" />
<line x1="336.40" y1="633.75" x2="339.50" y2="633.75" stroke="#1a1a1a" stroke-width="0.8" />
<text x="335.30" y="636.95" font-size="9.3" text-anchor="end" fill="#1a1a1a" stroke="#1a1a1a" stroke-width="0.25" >0</text>
<line x1="336.40" y1="617.35" x2="339.50" y2="617.35" stroke="#1a1a1a" stroke-width="0.8" />
<text x="335.30" y="620.55" font-size="9.3" text-anchor="end" fill="#1a1a1a" stroke="#1a1a1a" stroke-width="0.25" >2</text>
<line x1="336.40" y1="600.95" x2="339.50" y2="600.95" stroke="#1a1a1a" stroke-width="0.8" />
<text x="335.30" y="604.15" font-size="9.3" text-anchor="end" fill="#1a1a1a" stroke="#1a1a1a" stroke-width="0.25" >4</text>
<line x1="336.40" y1="584.55" x2="339.50" y2="584.55" stroke="#1a1a1a" stroke-width="0.8" />
<text x="335.30" y="587.75" font-size="9.3" text-anchor="end" fill="#1a1a1a" stroke="#1a1a1a" stroke-width="0.25" >6</text>
<line x1="336.40" y1="568.15" x2="339.50" y2="568.15" stroke="#1a1a1a" stroke-width="0.8" />
<text x="335.30" y="571.35" font-size="9.3" text-anchor="end" fill="#1a1a1a" stroke="#1a1a1a" stroke-width="0.25" >8</text>
<line x1="336.40" y1="551.75" x2="339.50" y2="551.75" stroke="#1a1a1a" stroke-width="0.8" />
<text x="335.30" y="554.95" font-size="9.3" text-anchor="end" fill="#1a1a1a" stroke="#1a1a1a" stroke-width="0.25" >10</text>
<text x="314.60" y="593.80" font-size="8.65" text-anchor="middle" fill="#1a1a1a" stroke="#1a1a1a" stroke-width="0.25" transform="rotate(-90 314.60 593.80)" >Fluorescence arbitrary units</text>
<rect x="346.25" y="600.54" width="24.50" height="33.21" fill="#0a0a0a" />
<line x1="358.50" y1="600.54" x2="358.50" y2="592.59" stroke="#333" stroke-width="0.7" />
<line x1="352.10" y1="592.59" x2="364.90" y2="592.59" stroke="#333" stroke-width="0.7" />
<line x1="358.50" y1="633.75" x2="358.50" y2="636.30" stroke="#1a1a1a" stroke-width="0.8" />
<rect x="383.80" y="568.15" width="24.40" height="65.60" fill="#a6a6a6" />
<line x1="396.00" y1="568.15" x2="396.00" y2="558.88" stroke="#333" stroke-width="0.7" />
<line x1="389.60" y1="558.88" x2="402.40" y2="558.88" stroke="#333" stroke-width="0.7" />
<line x1="396.00" y1="633.75" x2="396.00" y2="636.30" stroke="#1a1a1a" stroke-width="0.8" />
<rect x="421.75" y="580.78" width="24.50" height="52.97" fill="#333333" />
<line x1="434.00" y1="580.78" x2="434.00" y2="577.50" stroke="#333" stroke-width="0.7" />
<line x1="427.60" y1="577.50" x2="440.40" y2="577.50" stroke="#333" stroke-width="0.7" />
<line x1="434.00" y1="633.75" x2="434.00" y2="636.30" stroke="#1a1a1a" stroke-width="0.8" />
<rect x="459.20" y="602.75" width="25.10" height="31.00" fill="#777777" />
<line x1="471.75" y1="602.75" x2="471.75" y2="599.64" stroke="#333" stroke-width="0.7" />
<line x1="465.35" y1="599.64" x2="478.15" y2="599.64" stroke="#333" stroke-width="0.7" />
<line x1="471.75" y1="633.75" x2="471.75" y2="636.30" stroke="#1a1a1a" stroke-width="0.8" />
<text x="395.50" y="555.20" font-size="6.5" text-anchor="middle" fill="#1a1a1a" >***</text>
<text x="434.00" y="572.60" font-size="6.5" text-anchor="middle" fill="#1a1a1a" >**</text>
<text x="358.50" y="645.00" font-size="8.5" text-anchor="middle" fill="#1a1a1a" stroke="#1a1a1a" stroke-width="0.25" >10%</text>
<text x="358.50" y="655.75" font-size="8.5" text-anchor="middle" fill="#1a1a1a" stroke="#1a1a1a" stroke-width="0.25" >FBS</text>
<text x="395.50" y="645.00" font-size="8.5" text-anchor="middle" fill="#1a1a1a" stroke="#1a1a1a" stroke-width="0.25" >1%</text>
<text x="395.50" y="655.75" font-size="8.5" text-anchor="middle" fill="#1a1a1a" stroke="#1a1a1a" stroke-width="0.25" >FBS</text>
<text x="434.00" y="645.00" font-size="8.5" text-anchor="middle" fill="#1a1a1a" stroke="#1a1a1a" stroke-width="0.25" >1% FBS</text>
<text x="434.00" y="655.75" font-size="8.5" text-anchor="middle" fill="#1a1a1a" stroke="#1a1a1a" stroke-width="0.25" >IL15 50</text>
<text x="472.00" y="645.00" font-size="8.5" text-anchor="middle" fill="#1a1a1a" stroke="#1a1a1a" stroke-width="0.25" >1% FBS</text>
<text x="472.00" y="655.75" font-size="8.5" text-anchor="middle" fill="#1a1a1a" stroke="#1a1a1a" stroke-width="0.25" >IL15 100</text>
<rect x="0.5" y="0.5" width="519" height="669" fill="none" stroke="#666666" stroke-width="1"/>
</svg>
</body></html>
